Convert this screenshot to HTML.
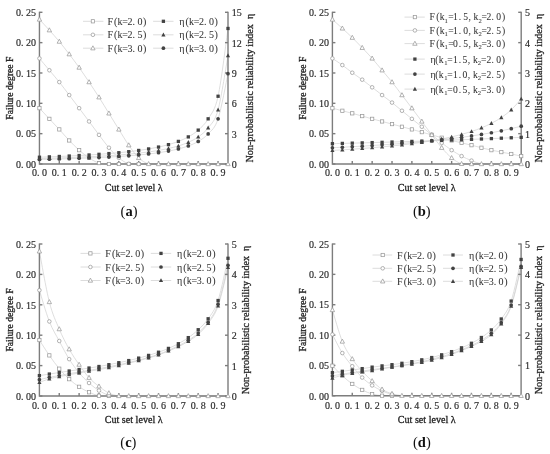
<!DOCTYPE html>
<html><head><meta charset="utf-8"><title>Failure degree and reliability index vs cut set level</title>
<style>html,body{margin:0;padding:0;background:#fff;}svg{display:block;}
text{font-family:"Liberation Serif","Noto Serif CJK SC",serif;stroke:#2e2e2e;stroke-width:0.18px;}
.lg text{stroke-width:0.05px;fill:#333;}</style></head>
<body><svg width="550" height="454" viewBox="0 0 550 454">
<rect width="550" height="454" fill="#fff"/>
<path d="M39.45 108.17C41.10 109.95 46.07 115.31 49.37 118.85C52.68 122.39 55.99 125.81 59.30 129.41C62.61 133.01 65.91 137.00 69.22 140.46C72.53 143.91 75.84 147.25 79.14 150.16C82.45 153.08 85.76 155.78 89.07 157.93C92.38 160.09 95.68 162.08 98.99 163.09C102.30 164.00 105.61 163.85 108.92 164.00C112.22 164.00 115.53 164.00 118.84 164.00C122.15 164.00 125.46 164.00 128.76 164.00C132.07 164.00 135.38 164.00 138.69 164.00C141.99 164.00 145.30 164.00 148.61 164.00C151.92 164.00 155.23 164.00 158.53 164.00C161.84 164.00 165.15 164.00 168.46 164.00C171.77 164.00 175.07 164.00 178.38 164.00C181.69 164.00 185.00 164.00 188.31 164.00C191.61 164.00 194.92 164.00 198.23 164.00C201.54 164.00 204.84 164.00 208.15 164.00C211.46 164.00 214.77 164.00 218.08 164.00C221.38 164.00 226.35 164.00 228.00 164.00" fill="none" stroke="#d3d3d3" stroke-width="0.75"/>
<path d="M39.45 58.42C41.10 60.39 46.07 66.31 49.37 70.25C52.68 74.19 55.99 77.95 59.30 82.08C62.61 86.22 65.91 90.72 69.22 95.07C72.53 99.42 75.84 103.78 79.14 108.17C82.45 112.57 85.76 117.01 89.07 121.46C92.38 125.91 95.68 130.49 98.99 134.87C102.30 139.25 105.61 143.90 108.92 147.74C112.22 151.59 115.53 155.25 118.84 157.93C122.15 160.61 125.46 162.81 128.76 163.82C132.07 164.00 135.38 163.97 138.69 164.00C141.99 164.00 145.30 164.00 148.61 164.00C151.92 164.00 155.23 164.00 158.53 164.00C161.84 164.00 165.15 164.00 168.46 164.00C171.77 164.00 175.07 164.00 178.38 164.00C181.69 164.00 185.00 164.00 188.31 164.00C191.61 164.00 194.92 164.00 198.23 164.00C201.54 164.00 204.84 164.00 208.15 164.00C211.46 164.00 214.77 164.00 218.08 164.00C221.38 164.00 226.35 164.00 228.00 164.00" fill="none" stroke="#d3d3d3" stroke-width="0.75"/>
<path d="M39.45 19.46C41.10 21.25 46.07 26.52 49.37 30.20C52.68 33.88 55.99 37.55 59.30 41.55C62.61 45.54 65.91 49.84 69.22 54.17C72.53 58.50 75.84 62.87 79.14 67.52C82.45 72.17 85.76 77.13 89.07 82.08C92.38 87.04 95.68 92.04 98.99 97.25C102.30 102.46 105.61 107.97 108.92 113.33C112.22 118.69 115.53 124.10 118.84 129.41C122.15 134.72 125.46 140.44 128.76 145.19C132.07 149.94 135.38 154.81 138.69 157.93C141.99 161.05 145.30 162.91 148.61 163.92C151.92 164.00 155.23 163.99 158.53 164.00C161.84 164.00 165.15 164.00 168.46 164.00C171.77 164.00 175.07 164.00 178.38 164.00C181.69 164.00 185.00 164.00 188.31 164.00C191.61 164.00 194.92 164.00 198.23 164.00C201.54 164.00 204.84 164.00 208.15 164.00C211.46 164.00 214.77 164.00 218.08 164.00C221.38 164.00 226.35 164.00 228.00 164.00" fill="none" stroke="#d3d3d3" stroke-width="0.75"/>
<path d="M39.45 157.22C41.10 157.16 46.07 156.99 49.37 156.87C52.68 156.74 55.99 156.61 59.30 156.47C62.61 156.33 65.91 156.19 69.22 156.03C72.53 155.87 75.84 155.71 79.14 155.53C82.45 155.35 85.76 155.17 89.07 154.97C92.38 154.76 95.68 154.55 98.99 154.32C102.30 154.09 105.61 153.84 108.92 153.58C112.22 153.31 115.53 153.02 118.84 152.71C122.15 152.39 125.46 152.06 128.76 151.68C132.07 151.30 135.38 150.90 138.69 150.45C141.99 149.99 145.30 149.51 148.61 148.94C151.92 148.38 155.23 147.78 158.53 147.06C161.84 146.34 165.15 145.58 168.46 144.64C171.77 143.70 175.07 142.70 178.38 141.41C181.69 140.12 185.00 138.78 188.31 136.90C191.61 135.01 194.92 133.13 198.23 130.12C201.54 127.11 204.84 124.47 208.15 118.83C211.46 113.18 214.77 111.30 218.08 96.24C221.38 81.18 226.35 39.77 228.00 28.48" fill="none" stroke="#d3d3d3" stroke-width="0.75"/>
<path d="M39.45 158.58C41.10 158.53 46.07 158.39 49.37 158.29C52.68 158.19 55.99 158.09 59.30 157.98C62.61 157.87 65.91 157.75 69.22 157.62C72.53 157.50 75.84 157.37 79.14 157.22C82.45 157.08 85.76 156.93 89.07 156.77C92.38 156.61 95.68 156.44 98.99 156.26C102.30 156.07 105.61 155.88 108.92 155.66C112.22 155.45 115.53 155.22 118.84 154.97C122.15 154.71 125.46 154.45 128.76 154.14C132.07 153.84 135.38 153.52 138.69 153.16C141.99 152.79 145.30 152.41 148.61 151.95C151.92 151.50 155.23 151.02 158.53 150.45C161.84 149.87 165.15 149.27 168.46 148.51C171.77 147.76 175.07 146.96 178.38 145.93C181.69 144.90 185.00 143.82 188.31 142.32C191.61 140.81 194.92 139.31 198.23 136.90C201.54 134.49 204.84 132.38 208.15 127.86C211.46 123.34 214.77 121.84 218.08 109.79C221.38 97.75 226.35 64.62 228.00 55.59" fill="none" stroke="#d3d3d3" stroke-width="0.75"/>
<path d="M39.45 159.48C41.10 159.44 46.07 159.33 49.37 159.24C52.68 159.16 55.99 159.07 59.30 158.98C62.61 158.89 65.91 158.79 69.22 158.69C72.53 158.58 75.84 158.47 79.14 158.35C82.45 158.24 85.76 158.11 89.07 157.98C92.38 157.84 95.68 157.70 98.99 157.55C102.30 157.39 105.61 157.23 108.92 157.05C112.22 156.87 115.53 156.68 118.84 156.47C122.15 156.26 125.46 156.04 128.76 155.79C132.07 155.54 135.38 155.27 138.69 154.97C141.99 154.66 145.30 154.34 148.61 153.96C151.92 153.59 155.23 153.18 158.53 152.71C161.84 152.23 165.15 151.72 168.46 151.09C171.77 150.47 175.07 149.80 178.38 148.94C181.69 148.08 185.00 147.19 188.31 145.93C191.61 144.68 194.92 143.42 198.23 141.41C201.54 139.41 204.84 137.65 208.15 133.88C211.46 130.12 214.77 128.87 218.08 118.83C221.38 108.79 226.35 81.18 228.00 73.65" fill="none" stroke="#d3d3d3" stroke-width="0.75"/>
<g stroke="#7d7d7d" stroke-width="1.4" fill="none">
<path d="M39.45 11.70V164.00H228.00V11.70"/>
<path d="M39.45 164.00h3"/>
<path d="M39.45 133.66h3"/>
<path d="M39.45 103.32h3"/>
<path d="M39.45 72.98h3"/>
<path d="M39.45 42.64h3"/>
<path d="M39.45 12.30h3"/>
<path d="M59.30 164.00v-3"/>
<path d="M79.14 164.00v-3"/>
<path d="M98.99 164.00v-3"/>
<path d="M118.84 164.00v-3"/>
<path d="M138.69 164.00v-3"/>
<path d="M158.53 164.00v-3"/>
<path d="M178.38 164.00v-3"/>
<path d="M198.23 164.00v-3"/>
<path d="M218.08 164.00v-3"/>
<path d="M228.00 164.00h-3"/>
<path d="M228.00 133.66h-3"/>
<path d="M228.00 103.32h-3"/>
<path d="M228.00 72.98h-3"/>
<path d="M228.00 42.64h-3"/>
<path d="M228.00 12.30h-3"/>
</g>
<rect x="37.80" y="106.52" width="3.30" height="3.30" fill="#fff" stroke="#9a9a9a" stroke-width="0.75"/>
<rect x="47.72" y="117.20" width="3.30" height="3.30" fill="#fff" stroke="#9a9a9a" stroke-width="0.75"/>
<rect x="57.65" y="127.76" width="3.30" height="3.30" fill="#fff" stroke="#9a9a9a" stroke-width="0.75"/>
<rect x="67.57" y="138.81" width="3.30" height="3.30" fill="#fff" stroke="#9a9a9a" stroke-width="0.75"/>
<rect x="77.49" y="148.51" width="3.30" height="3.30" fill="#fff" stroke="#9a9a9a" stroke-width="0.75"/>
<rect x="87.42" y="156.28" width="3.30" height="3.30" fill="#fff" stroke="#9a9a9a" stroke-width="0.75"/>
<rect x="97.34" y="161.44" width="3.30" height="3.30" fill="#fff" stroke="#9a9a9a" stroke-width="0.75"/>
<rect x="107.27" y="162.35" width="3.30" height="3.30" fill="#fff" stroke="#9a9a9a" stroke-width="0.75"/>
<rect x="117.19" y="162.35" width="3.30" height="3.30" fill="#fff" stroke="#9a9a9a" stroke-width="0.75"/>
<rect x="127.11" y="162.35" width="3.30" height="3.30" fill="#fff" stroke="#9a9a9a" stroke-width="0.75"/>
<rect x="137.04" y="162.35" width="3.30" height="3.30" fill="#fff" stroke="#9a9a9a" stroke-width="0.75"/>
<circle cx="39.45" cy="58.42" r="1.80" fill="#fff" stroke="#9a9a9a" stroke-width="0.75"/>
<circle cx="49.37" cy="70.25" r="1.80" fill="#fff" stroke="#9a9a9a" stroke-width="0.75"/>
<circle cx="59.30" cy="82.08" r="1.80" fill="#fff" stroke="#9a9a9a" stroke-width="0.75"/>
<circle cx="69.22" cy="95.07" r="1.80" fill="#fff" stroke="#9a9a9a" stroke-width="0.75"/>
<circle cx="79.14" cy="108.17" r="1.80" fill="#fff" stroke="#9a9a9a" stroke-width="0.75"/>
<circle cx="89.07" cy="121.46" r="1.80" fill="#fff" stroke="#9a9a9a" stroke-width="0.75"/>
<circle cx="98.99" cy="134.87" r="1.80" fill="#fff" stroke="#9a9a9a" stroke-width="0.75"/>
<circle cx="108.92" cy="147.74" r="1.80" fill="#fff" stroke="#9a9a9a" stroke-width="0.75"/>
<circle cx="118.84" cy="157.93" r="1.80" fill="#fff" stroke="#9a9a9a" stroke-width="0.75"/>
<circle cx="128.76" cy="163.82" r="1.80" fill="#fff" stroke="#9a9a9a" stroke-width="0.75"/>
<circle cx="138.69" cy="164.00" r="1.80" fill="#fff" stroke="#9a9a9a" stroke-width="0.75"/>
<path d="M39.45 17.08L41.65 21.13L37.25 21.13Z" fill="#fff" stroke="#9a9a9a" stroke-width="0.75"/>
<path d="M49.37 27.82L51.57 31.87L47.17 31.87Z" fill="#fff" stroke="#9a9a9a" stroke-width="0.75"/>
<path d="M59.30 39.17L61.50 43.22L57.10 43.22Z" fill="#fff" stroke="#9a9a9a" stroke-width="0.75"/>
<path d="M69.22 51.79L71.42 55.84L67.02 55.84Z" fill="#fff" stroke="#9a9a9a" stroke-width="0.75"/>
<path d="M79.14 65.14L81.34 69.19L76.94 69.19Z" fill="#fff" stroke="#9a9a9a" stroke-width="0.75"/>
<path d="M89.07 79.71L91.27 83.75L86.87 83.75Z" fill="#fff" stroke="#9a9a9a" stroke-width="0.75"/>
<path d="M98.99 94.88L101.19 98.92L96.79 98.92Z" fill="#fff" stroke="#9a9a9a" stroke-width="0.75"/>
<path d="M108.92 110.96L111.12 115.00L106.72 115.00Z" fill="#fff" stroke="#9a9a9a" stroke-width="0.75"/>
<path d="M118.84 127.04L121.04 131.08L116.64 131.08Z" fill="#fff" stroke="#9a9a9a" stroke-width="0.75"/>
<path d="M128.76 142.81L130.96 146.86L126.56 146.86Z" fill="#fff" stroke="#9a9a9a" stroke-width="0.75"/>
<path d="M138.69 155.56L140.89 159.60L136.49 159.60Z" fill="#fff" stroke="#9a9a9a" stroke-width="0.75"/>
<path d="M148.61 161.55L150.81 165.60L146.41 165.60Z" fill="#fff" stroke="#9a9a9a" stroke-width="0.75"/>
<path d="M158.53 161.62L160.73 165.67L156.33 165.67Z" fill="#fff" stroke="#9a9a9a" stroke-width="0.75"/>
<path d="M168.46 161.62L170.66 165.67L166.26 165.67Z" fill="#fff" stroke="#9a9a9a" stroke-width="0.75"/>
<path d="M178.38 161.62L180.58 165.67L176.18 165.67Z" fill="#fff" stroke="#9a9a9a" stroke-width="0.75"/>
<path d="M188.31 161.62L190.51 165.67L186.11 165.67Z" fill="#fff" stroke="#9a9a9a" stroke-width="0.75"/>
<path d="M198.23 161.62L200.43 165.67L196.03 165.67Z" fill="#fff" stroke="#9a9a9a" stroke-width="0.75"/>
<path d="M208.15 161.62L210.35 165.67L205.95 165.67Z" fill="#fff" stroke="#9a9a9a" stroke-width="0.75"/>
<path d="M218.08 161.62L220.28 165.67L215.88 165.67Z" fill="#fff" stroke="#9a9a9a" stroke-width="0.75"/>
<path d="M228.00 161.62L230.20 165.67L225.80 165.67Z" fill="#fff" stroke="#9a9a9a" stroke-width="0.75"/>
<rect x="37.80" y="155.57" width="3.30" height="3.30" fill="#424242" stroke="none"/>
<rect x="47.72" y="155.22" width="3.30" height="3.30" fill="#424242" stroke="none"/>
<rect x="57.65" y="154.82" width="3.30" height="3.30" fill="#424242" stroke="none"/>
<rect x="67.57" y="154.38" width="3.30" height="3.30" fill="#424242" stroke="none"/>
<rect x="77.49" y="153.88" width="3.30" height="3.30" fill="#424242" stroke="none"/>
<rect x="87.42" y="153.32" width="3.30" height="3.30" fill="#424242" stroke="none"/>
<rect x="97.34" y="152.67" width="3.30" height="3.30" fill="#424242" stroke="none"/>
<rect x="107.27" y="151.93" width="3.30" height="3.30" fill="#424242" stroke="none"/>
<rect x="117.19" y="151.06" width="3.30" height="3.30" fill="#424242" stroke="none"/>
<rect x="127.11" y="150.03" width="3.30" height="3.30" fill="#424242" stroke="none"/>
<rect x="137.04" y="148.80" width="3.30" height="3.30" fill="#424242" stroke="none"/>
<rect x="146.96" y="147.29" width="3.30" height="3.30" fill="#424242" stroke="none"/>
<rect x="156.88" y="145.41" width="3.30" height="3.30" fill="#424242" stroke="none"/>
<rect x="166.81" y="142.99" width="3.30" height="3.30" fill="#424242" stroke="none"/>
<rect x="176.73" y="139.76" width="3.30" height="3.30" fill="#424242" stroke="none"/>
<rect x="186.66" y="135.25" width="3.30" height="3.30" fill="#424242" stroke="none"/>
<rect x="196.58" y="128.47" width="3.30" height="3.30" fill="#424242" stroke="none"/>
<rect x="206.50" y="117.18" width="3.30" height="3.30" fill="#424242" stroke="none"/>
<rect x="216.43" y="94.59" width="3.30" height="3.30" fill="#424242" stroke="none"/>
<rect x="226.35" y="26.83" width="3.30" height="3.30" fill="#424242" stroke="none"/>
<path d="M39.45 156.31L41.55 160.18L37.35 160.18Z" fill="#424242" stroke="none"/>
<path d="M49.37 156.03L51.47 159.89L47.27 159.89Z" fill="#424242" stroke="none"/>
<path d="M59.30 155.71L61.40 159.57L57.20 159.57Z" fill="#424242" stroke="none"/>
<path d="M69.22 155.35L71.32 159.22L67.12 159.22Z" fill="#424242" stroke="none"/>
<path d="M79.14 154.96L81.24 158.82L77.04 158.82Z" fill="#424242" stroke="none"/>
<path d="M89.07 154.50L91.17 158.37L86.97 158.37Z" fill="#424242" stroke="none"/>
<path d="M98.99 153.99L101.09 157.85L96.89 157.85Z" fill="#424242" stroke="none"/>
<path d="M108.92 153.39L111.02 157.26L106.82 157.26Z" fill="#424242" stroke="none"/>
<path d="M118.84 152.70L120.94 156.56L116.74 156.56Z" fill="#424242" stroke="none"/>
<path d="M128.76 151.88L130.86 155.74L126.66 155.74Z" fill="#424242" stroke="none"/>
<path d="M138.69 150.89L140.79 154.75L136.59 154.75Z" fill="#424242" stroke="none"/>
<path d="M148.61 149.69L150.71 153.55L146.51 153.55Z" fill="#424242" stroke="none"/>
<path d="M158.53 148.18L160.63 152.04L156.43 152.04Z" fill="#424242" stroke="none"/>
<path d="M168.46 146.24L170.56 150.11L166.36 150.11Z" fill="#424242" stroke="none"/>
<path d="M178.38 143.66L180.48 147.53L176.28 147.53Z" fill="#424242" stroke="none"/>
<path d="M188.31 140.05L190.41 143.91L186.21 143.91Z" fill="#424242" stroke="none"/>
<path d="M198.23 134.63L200.33 138.49L196.13 138.49Z" fill="#424242" stroke="none"/>
<path d="M208.15 125.59L210.25 129.46L206.05 129.46Z" fill="#424242" stroke="none"/>
<path d="M218.08 107.52L220.18 111.39L215.98 111.39Z" fill="#424242" stroke="none"/>
<path d="M228.00 53.32L230.10 57.18L225.90 57.18Z" fill="#424242" stroke="none"/>
<circle cx="39.45" cy="159.48" r="1.85" fill="#424242" stroke="none"/>
<circle cx="49.37" cy="159.24" r="1.85" fill="#424242" stroke="none"/>
<circle cx="59.30" cy="158.98" r="1.85" fill="#424242" stroke="none"/>
<circle cx="69.22" cy="158.69" r="1.85" fill="#424242" stroke="none"/>
<circle cx="79.14" cy="158.35" r="1.85" fill="#424242" stroke="none"/>
<circle cx="89.07" cy="157.98" r="1.85" fill="#424242" stroke="none"/>
<circle cx="98.99" cy="157.55" r="1.85" fill="#424242" stroke="none"/>
<circle cx="108.92" cy="157.05" r="1.85" fill="#424242" stroke="none"/>
<circle cx="118.84" cy="156.47" r="1.85" fill="#424242" stroke="none"/>
<circle cx="128.76" cy="155.79" r="1.85" fill="#424242" stroke="none"/>
<circle cx="138.69" cy="154.97" r="1.85" fill="#424242" stroke="none"/>
<circle cx="148.61" cy="153.96" r="1.85" fill="#424242" stroke="none"/>
<circle cx="158.53" cy="152.71" r="1.85" fill="#424242" stroke="none"/>
<circle cx="168.46" cy="151.09" r="1.85" fill="#424242" stroke="none"/>
<circle cx="178.38" cy="148.94" r="1.85" fill="#424242" stroke="none"/>
<circle cx="188.31" cy="145.93" r="1.85" fill="#424242" stroke="none"/>
<circle cx="198.23" cy="141.41" r="1.85" fill="#424242" stroke="none"/>
<circle cx="208.15" cy="133.88" r="1.85" fill="#424242" stroke="none"/>
<circle cx="218.08" cy="118.83" r="1.85" fill="#424242" stroke="none"/>
<circle cx="228.00" cy="73.65" r="1.85" fill="#424242" stroke="none"/>
<text x="18.55 22.35 28.55 33.55" y="167.70" font-size="10" text-anchor="middle" fill="#2e2e2e">0.00</text>
<text x="18.55 22.35 28.55 33.55" y="137.36" font-size="10" text-anchor="middle" fill="#2e2e2e">0.05</text>
<text x="18.55 22.35 28.55 33.55" y="107.02" font-size="10" text-anchor="middle" fill="#2e2e2e">0.10</text>
<text x="18.55 22.35 28.55 33.55" y="76.68" font-size="10" text-anchor="middle" fill="#2e2e2e">0.15</text>
<text x="18.55 22.35 28.55 33.55" y="46.34" font-size="10" text-anchor="middle" fill="#2e2e2e">0.20</text>
<text x="18.55 22.35 28.55 33.55" y="16.00" font-size="10" text-anchor="middle" fill="#2e2e2e">0.25</text>
<text x="34.45 38.25 44.45" y="176.20" font-size="10" text-anchor="middle" fill="#2e2e2e">0.0</text>
<text x="54.30 58.10 64.30" y="176.20" font-size="10" text-anchor="middle" fill="#2e2e2e">0.1</text>
<text x="74.14 77.94 84.14" y="176.20" font-size="10" text-anchor="middle" fill="#2e2e2e">0.2</text>
<text x="93.99 97.79 103.99" y="176.20" font-size="10" text-anchor="middle" fill="#2e2e2e">0.3</text>
<text x="113.84 117.64 123.84" y="176.20" font-size="10" text-anchor="middle" fill="#2e2e2e">0.4</text>
<text x="133.69 137.49 143.69" y="176.20" font-size="10" text-anchor="middle" fill="#2e2e2e">0.5</text>
<text x="153.53 157.33 163.53" y="176.20" font-size="10" text-anchor="middle" fill="#2e2e2e">0.6</text>
<text x="173.38 177.18 183.38" y="176.20" font-size="10" text-anchor="middle" fill="#2e2e2e">0.7</text>
<text x="193.23 197.03 203.23" y="176.20" font-size="10" text-anchor="middle" fill="#2e2e2e">0.8</text>
<text x="213.08 216.88 223.08" y="176.20" font-size="10" text-anchor="middle" fill="#2e2e2e">0.9</text>
<text x="234.30" y="168.00" font-size="10" text-anchor="middle" fill="#2e2e2e">0</text>
<text x="234.30" y="137.66" font-size="10" text-anchor="middle" fill="#2e2e2e">3</text>
<text x="234.30" y="107.32" font-size="10" text-anchor="middle" fill="#2e2e2e">6</text>
<text x="234.30" y="76.98" font-size="10" text-anchor="middle" fill="#2e2e2e">9</text>
<text x="234.30 239.30" y="46.64" font-size="10" text-anchor="middle" fill="#2e2e2e">12</text>
<text x="234.30 239.30" y="16.30" font-size="10" text-anchor="middle" fill="#2e2e2e">15</text>
<text transform="translate(12.85 88.15) rotate(-90)" text-anchor="middle" font-size="9.65" fill="#2e2e2e" style="stroke-width:0.32px;stroke:#222">Failure degree F</text>
<text transform="translate(253.40 88.15) rotate(-90)" text-anchor="middle" font-size="10.15" fill="#2e2e2e" style="stroke-width:0.3px;stroke:#222">Non-probabilistic reliability index&#160;&#160;η</text>
<text x="133.72" y="191.30" text-anchor="middle" font-size="10.1" fill="#2e2e2e" style="stroke-width:0.32px;stroke:#222">Cut set level λ</text>
<text x="129.00" y="216.00" text-anchor="middle" font-size="14.5" fill="#111" style="stroke:none">(<tspan font-weight="bold">a</tspan>)</text>
<path d="M83.00 21.30H103.40" stroke="#d3d3d3" stroke-width="0.8"/>
<rect x="91.25" y="19.65" width="3.30" height="3.30" fill="#fff" stroke="#9a9a9a" stroke-width="0.75"/>
<g class="lg"><text x="110.17 115.72 120.08 125.03 129.98 133.75 139.88 144.58" y="24.80" font-size="10" text-anchor="middle" fill="#2e2e2e">F(k=2.0)</text></g>
<path d="M153.10 21.30H173.50" stroke="#d3d3d3" stroke-width="0.8"/>
<rect x="161.75" y="19.65" width="3.30" height="3.30" fill="#424242" stroke="none"/>
<g class="lg"><text x="181.80" y="24.80" font-size="10" text-anchor="middle" fill="#2e2e2e">η</text><text x="187.27 191.62 196.57 201.52 205.30 211.42 216.13" y="24.80" font-size="10" text-anchor="middle" fill="#2e2e2e">(k=2.0)</text></g>
<path d="M83.00 34.80H103.40" stroke="#d3d3d3" stroke-width="0.8"/>
<circle cx="92.90" cy="34.80" r="1.80" fill="#fff" stroke="#9a9a9a" stroke-width="0.75"/>
<g class="lg"><text x="110.17 115.72 120.08 125.03 129.98 133.75 139.88 144.58" y="38.30" font-size="10" text-anchor="middle" fill="#2e2e2e">F(k=2.5)</text></g>
<path d="M153.10 34.80H173.50" stroke="#d3d3d3" stroke-width="0.8"/>
<path d="M163.40 32.53L165.50 36.40L161.30 36.40Z" fill="#424242" stroke="none"/>
<g class="lg"><text x="181.80" y="38.30" font-size="10" text-anchor="middle" fill="#2e2e2e">η</text><text x="187.27 191.62 196.57 201.52 205.30 211.42 216.13" y="38.30" font-size="10" text-anchor="middle" fill="#2e2e2e">(k=2.5)</text></g>
<path d="M83.00 48.20H103.40" stroke="#d3d3d3" stroke-width="0.8"/>
<path d="M92.90 45.82L95.10 49.87L90.70 49.87Z" fill="#fff" stroke="#9a9a9a" stroke-width="0.75"/>
<g class="lg"><text x="110.17 115.72 120.08 125.03 129.98 133.75 139.88 144.58" y="51.70" font-size="10" text-anchor="middle" fill="#2e2e2e">F(k=3.0)</text></g>
<path d="M153.10 48.20H173.50" stroke="#d3d3d3" stroke-width="0.8"/>
<circle cx="163.40" cy="48.20" r="1.85" fill="#424242" stroke="none"/>
<g class="lg"><text x="181.80" y="51.70" font-size="10" text-anchor="middle" fill="#2e2e2e">η</text><text x="187.27 191.62 196.57 201.52 205.30 211.42 216.13" y="51.70" font-size="10" text-anchor="middle" fill="#2e2e2e">(k=3.0)</text></g>
<path d="M332.40 108.17C334.06 108.60 339.02 109.89 342.34 110.75C345.65 111.61 348.96 112.44 352.27 113.33C355.59 114.22 358.90 115.17 362.21 116.09C365.52 117.01 368.84 117.96 372.15 118.85C375.46 119.75 378.77 120.59 382.08 121.46C385.40 122.34 388.71 123.21 392.02 124.09C395.33 124.97 398.65 125.85 401.96 126.74C405.27 127.63 408.58 128.51 411.89 129.41C415.21 130.31 418.52 131.22 421.83 132.13C425.14 133.04 428.46 133.94 431.77 134.87C435.08 135.81 438.39 136.78 441.71 137.71C445.02 138.65 448.33 139.60 451.64 140.46C454.95 141.31 458.27 142.07 461.58 142.86C464.89 143.65 468.20 144.37 471.52 145.19C474.83 146.00 478.14 146.91 481.45 147.74C484.76 148.57 488.08 149.44 491.39 150.16C494.70 150.89 498.01 151.47 501.33 152.11C504.64 152.75 507.95 153.32 511.26 153.99C514.58 154.65 519.54 155.76 521.20 156.11" fill="none" stroke="#d3d3d3" stroke-width="0.75"/>
<path d="M332.40 58.42C334.06 59.53 339.02 62.70 342.34 65.08C345.65 67.47 348.96 70.30 352.27 72.73C355.59 75.17 358.90 77.25 362.21 79.68C365.52 82.11 368.84 84.75 372.15 87.32C375.46 89.88 378.77 92.52 382.08 95.07C385.40 97.61 388.71 99.96 392.02 102.58C395.33 105.19 398.65 108.04 401.96 110.75C405.27 113.46 408.58 116.19 411.89 118.85C415.21 121.52 418.52 124.07 421.83 126.74C425.14 129.41 428.46 132.19 431.77 134.87C435.08 137.56 438.39 140.31 441.71 142.86C445.02 145.41 448.33 147.96 451.64 150.16C454.95 152.37 458.27 154.37 461.58 156.11C464.89 157.85 468.20 159.32 471.52 160.60C474.83 161.89 478.14 163.25 481.45 163.82C484.76 164.00 488.08 163.97 491.39 164.00C494.70 164.00 498.01 164.00 501.33 164.00C504.64 164.00 507.95 164.00 511.26 164.00C514.58 164.00 519.54 164.00 521.20 164.00" fill="none" stroke="#d3d3d3" stroke-width="0.75"/>
<path d="M332.40 19.46C334.06 20.95 339.02 25.34 342.34 28.37C345.65 31.40 348.96 34.42 352.27 37.65C355.59 40.89 358.90 44.31 362.21 47.77C365.52 51.23 368.84 54.67 372.15 58.42C375.46 62.16 378.77 66.31 382.08 70.25C385.40 74.19 388.71 77.95 392.02 82.08C395.33 86.22 398.65 90.72 401.96 95.07C405.27 99.42 408.58 103.78 411.89 108.17C415.21 112.57 418.52 117.01 421.83 121.46C425.14 125.91 428.46 130.49 431.77 134.87C435.08 139.25 438.39 143.90 441.71 147.74C445.02 151.59 448.33 155.25 451.64 157.93C454.95 160.61 458.27 162.81 461.58 163.82C464.89 164.00 468.20 163.97 471.52 164.00C474.83 164.00 478.14 164.00 481.45 164.00C484.76 164.00 488.08 164.00 491.39 164.00C494.70 164.00 498.01 164.00 501.33 164.00C504.64 164.00 507.95 164.00 511.26 164.00C514.58 164.00 519.54 164.00 521.20 164.00" fill="none" stroke="#d3d3d3" stroke-width="0.75"/>
<path d="M332.40 143.67C334.06 143.63 339.02 143.50 342.34 143.41C345.65 143.33 348.96 143.24 352.27 143.15C355.59 143.06 358.90 142.97 362.21 142.88C365.52 142.79 368.84 142.70 372.15 142.60C375.46 142.51 378.77 142.41 382.08 142.32C385.40 142.22 388.71 142.12 392.02 142.02C395.33 141.92 398.65 141.82 401.96 141.72C405.27 141.62 408.58 141.52 411.89 141.41C415.21 141.31 418.52 141.20 421.83 141.10C425.14 140.99 428.46 140.88 431.77 140.77C435.08 140.66 438.39 140.55 441.71 140.43C445.02 140.32 448.33 140.20 451.64 140.08C454.95 139.97 458.27 139.85 461.58 139.73C464.89 139.61 468.20 139.48 471.52 139.36C474.83 139.24 478.14 139.11 481.45 138.98C484.76 138.85 488.08 138.72 491.39 138.59C494.70 138.46 498.01 138.32 501.33 138.19C504.64 138.05 507.95 137.91 511.26 137.77C514.58 137.63 519.54 137.41 521.20 137.34" fill="none" stroke="#d3d3d3" stroke-width="0.75"/>
<path d="M332.40 147.74C334.06 147.65 339.02 147.41 342.34 147.23C345.65 147.06 348.96 146.88 352.27 146.70C355.59 146.52 358.90 146.33 362.21 146.13C365.52 145.93 368.84 145.73 372.15 145.52C375.46 145.31 378.77 145.09 382.08 144.87C385.40 144.64 388.71 144.41 392.02 144.17C395.33 143.93 398.65 143.68 401.96 143.41C405.27 143.15 408.58 142.88 411.89 142.60C415.21 142.32 418.52 142.03 421.83 141.72C425.14 141.42 428.46 141.10 431.77 140.77C435.08 140.44 438.39 140.09 441.71 139.73C445.02 139.37 448.33 138.99 451.64 138.59C454.95 138.19 458.27 137.78 461.58 137.34C464.89 136.90 468.20 136.45 471.52 135.96C474.83 135.48 478.14 134.97 481.45 134.43C484.76 133.89 488.08 133.33 491.39 132.73C494.70 132.12 498.01 131.49 501.33 130.81C504.64 130.13 507.95 129.42 511.26 128.65C514.58 127.88 519.54 126.59 521.20 126.18" fill="none" stroke="#d3d3d3" stroke-width="0.75"/>
<path d="M332.40 150.45C334.06 150.35 339.02 150.06 342.34 149.86C345.65 149.65 348.96 149.44 352.27 149.22C355.59 148.99 358.90 148.76 362.21 148.51C365.52 148.27 368.84 148.01 372.15 147.74C375.46 147.47 378.77 147.18 382.08 146.88C385.40 146.58 388.71 146.27 392.02 145.93C395.33 145.60 398.65 145.24 401.96 144.87C405.27 144.49 408.58 144.10 411.89 143.67C415.21 143.25 418.52 142.80 421.83 142.32C425.14 141.83 428.46 141.32 431.77 140.77C435.08 140.21 438.39 139.63 441.71 138.98C445.02 138.34 448.33 137.65 451.64 136.90C454.95 136.14 458.27 135.34 461.58 134.43C464.89 133.53 468.20 132.57 471.52 131.48C474.83 130.38 478.14 129.22 481.45 127.86C484.76 126.51 488.08 125.07 491.39 123.34C494.70 121.62 498.01 119.80 501.33 117.54C504.64 115.28 507.95 112.89 511.26 109.79C514.58 106.69 519.54 100.76 521.20 98.95" fill="none" stroke="#d3d3d3" stroke-width="0.75"/>
<g stroke="#7d7d7d" stroke-width="1.4" fill="none">
<path d="M332.40 11.70V164.00H521.20V11.70"/>
<path d="M332.40 164.00h3"/>
<path d="M332.40 133.66h3"/>
<path d="M332.40 103.32h3"/>
<path d="M332.40 72.98h3"/>
<path d="M332.40 42.64h3"/>
<path d="M332.40 12.30h3"/>
<path d="M352.27 164.00v-3"/>
<path d="M372.15 164.00v-3"/>
<path d="M392.02 164.00v-3"/>
<path d="M411.89 164.00v-3"/>
<path d="M431.77 164.00v-3"/>
<path d="M451.64 164.00v-3"/>
<path d="M471.52 164.00v-3"/>
<path d="M491.39 164.00v-3"/>
<path d="M511.26 164.00v-3"/>
<path d="M521.20 164.00h-3"/>
<path d="M521.20 133.66h-3"/>
<path d="M521.20 103.32h-3"/>
<path d="M521.20 72.98h-3"/>
<path d="M521.20 42.64h-3"/>
<path d="M521.20 12.30h-3"/>
</g>
<rect x="330.75" y="106.52" width="3.30" height="3.30" fill="#fff" stroke="#9a9a9a" stroke-width="0.75"/>
<rect x="340.69" y="109.10" width="3.30" height="3.30" fill="#fff" stroke="#9a9a9a" stroke-width="0.75"/>
<rect x="350.62" y="111.68" width="3.30" height="3.30" fill="#fff" stroke="#9a9a9a" stroke-width="0.75"/>
<rect x="360.56" y="114.44" width="3.30" height="3.30" fill="#fff" stroke="#9a9a9a" stroke-width="0.75"/>
<rect x="370.50" y="117.20" width="3.30" height="3.30" fill="#fff" stroke="#9a9a9a" stroke-width="0.75"/>
<rect x="380.43" y="119.81" width="3.30" height="3.30" fill="#fff" stroke="#9a9a9a" stroke-width="0.75"/>
<rect x="390.37" y="122.44" width="3.30" height="3.30" fill="#fff" stroke="#9a9a9a" stroke-width="0.75"/>
<rect x="400.31" y="125.09" width="3.30" height="3.30" fill="#fff" stroke="#9a9a9a" stroke-width="0.75"/>
<rect x="410.24" y="127.76" width="3.30" height="3.30" fill="#fff" stroke="#9a9a9a" stroke-width="0.75"/>
<rect x="420.18" y="130.48" width="3.30" height="3.30" fill="#fff" stroke="#9a9a9a" stroke-width="0.75"/>
<rect x="430.12" y="133.22" width="3.30" height="3.30" fill="#fff" stroke="#9a9a9a" stroke-width="0.75"/>
<rect x="440.06" y="136.06" width="3.30" height="3.30" fill="#fff" stroke="#9a9a9a" stroke-width="0.75"/>
<rect x="449.99" y="138.81" width="3.30" height="3.30" fill="#fff" stroke="#9a9a9a" stroke-width="0.75"/>
<rect x="459.93" y="141.21" width="3.30" height="3.30" fill="#fff" stroke="#9a9a9a" stroke-width="0.75"/>
<rect x="469.87" y="143.54" width="3.30" height="3.30" fill="#fff" stroke="#9a9a9a" stroke-width="0.75"/>
<rect x="479.80" y="146.09" width="3.30" height="3.30" fill="#fff" stroke="#9a9a9a" stroke-width="0.75"/>
<rect x="489.74" y="148.51" width="3.30" height="3.30" fill="#fff" stroke="#9a9a9a" stroke-width="0.75"/>
<rect x="499.68" y="150.46" width="3.30" height="3.30" fill="#fff" stroke="#9a9a9a" stroke-width="0.75"/>
<rect x="509.61" y="152.34" width="3.30" height="3.30" fill="#fff" stroke="#9a9a9a" stroke-width="0.75"/>
<rect x="519.55" y="154.46" width="3.30" height="3.30" fill="#fff" stroke="#9a9a9a" stroke-width="0.75"/>
<circle cx="332.40" cy="58.42" r="1.80" fill="#fff" stroke="#9a9a9a" stroke-width="0.75"/>
<circle cx="342.34" cy="65.08" r="1.80" fill="#fff" stroke="#9a9a9a" stroke-width="0.75"/>
<circle cx="352.27" cy="72.73" r="1.80" fill="#fff" stroke="#9a9a9a" stroke-width="0.75"/>
<circle cx="362.21" cy="79.68" r="1.80" fill="#fff" stroke="#9a9a9a" stroke-width="0.75"/>
<circle cx="372.15" cy="87.32" r="1.80" fill="#fff" stroke="#9a9a9a" stroke-width="0.75"/>
<circle cx="382.08" cy="95.07" r="1.80" fill="#fff" stroke="#9a9a9a" stroke-width="0.75"/>
<circle cx="392.02" cy="102.58" r="1.80" fill="#fff" stroke="#9a9a9a" stroke-width="0.75"/>
<circle cx="401.96" cy="110.75" r="1.80" fill="#fff" stroke="#9a9a9a" stroke-width="0.75"/>
<circle cx="411.89" cy="118.85" r="1.80" fill="#fff" stroke="#9a9a9a" stroke-width="0.75"/>
<circle cx="421.83" cy="126.74" r="1.80" fill="#fff" stroke="#9a9a9a" stroke-width="0.75"/>
<circle cx="431.77" cy="134.87" r="1.80" fill="#fff" stroke="#9a9a9a" stroke-width="0.75"/>
<circle cx="441.71" cy="142.86" r="1.80" fill="#fff" stroke="#9a9a9a" stroke-width="0.75"/>
<circle cx="451.64" cy="150.16" r="1.80" fill="#fff" stroke="#9a9a9a" stroke-width="0.75"/>
<circle cx="461.58" cy="156.11" r="1.80" fill="#fff" stroke="#9a9a9a" stroke-width="0.75"/>
<circle cx="471.52" cy="160.60" r="1.80" fill="#fff" stroke="#9a9a9a" stroke-width="0.75"/>
<path d="M332.40 17.08L334.60 21.13L330.20 21.13Z" fill="#fff" stroke="#9a9a9a" stroke-width="0.75"/>
<path d="M342.34 25.99L344.54 30.04L340.14 30.04Z" fill="#fff" stroke="#9a9a9a" stroke-width="0.75"/>
<path d="M352.27 35.28L354.47 39.32L350.07 39.32Z" fill="#fff" stroke="#9a9a9a" stroke-width="0.75"/>
<path d="M362.21 45.39L364.41 49.44L360.01 49.44Z" fill="#fff" stroke="#9a9a9a" stroke-width="0.75"/>
<path d="M372.15 56.04L374.35 60.09L369.95 60.09Z" fill="#fff" stroke="#9a9a9a" stroke-width="0.75"/>
<path d="M382.08 67.87L384.28 71.92L379.88 71.92Z" fill="#fff" stroke="#9a9a9a" stroke-width="0.75"/>
<path d="M392.02 79.71L394.22 83.75L389.82 83.75Z" fill="#fff" stroke="#9a9a9a" stroke-width="0.75"/>
<path d="M401.96 92.69L404.16 96.74L399.76 96.74Z" fill="#fff" stroke="#9a9a9a" stroke-width="0.75"/>
<path d="M411.89 105.80L414.09 109.85L409.69 109.85Z" fill="#fff" stroke="#9a9a9a" stroke-width="0.75"/>
<path d="M421.83 119.09L424.03 123.14L419.63 123.14Z" fill="#fff" stroke="#9a9a9a" stroke-width="0.75"/>
<path d="M431.77 132.50L433.97 136.55L429.57 136.55Z" fill="#fff" stroke="#9a9a9a" stroke-width="0.75"/>
<path d="M441.71 145.37L443.91 149.42L439.51 149.42Z" fill="#fff" stroke="#9a9a9a" stroke-width="0.75"/>
<path d="M451.64 155.56L453.84 159.60L449.44 159.60Z" fill="#fff" stroke="#9a9a9a" stroke-width="0.75"/>
<path d="M461.58 161.44L463.78 165.49L459.38 165.49Z" fill="#fff" stroke="#9a9a9a" stroke-width="0.75"/>
<path d="M471.52 161.62L473.72 165.67L469.32 165.67Z" fill="#fff" stroke="#9a9a9a" stroke-width="0.75"/>
<path d="M481.45 161.62L483.65 165.67L479.25 165.67Z" fill="#fff" stroke="#9a9a9a" stroke-width="0.75"/>
<path d="M491.39 161.62L493.59 165.67L489.19 165.67Z" fill="#fff" stroke="#9a9a9a" stroke-width="0.75"/>
<path d="M501.33 161.62L503.53 165.67L499.13 165.67Z" fill="#fff" stroke="#9a9a9a" stroke-width="0.75"/>
<path d="M511.26 161.62L513.46 165.67L509.06 165.67Z" fill="#fff" stroke="#9a9a9a" stroke-width="0.75"/>
<path d="M521.20 161.62L523.40 165.67L519.00 165.67Z" fill="#fff" stroke="#9a9a9a" stroke-width="0.75"/>
<rect x="330.75" y="142.02" width="3.30" height="3.30" fill="#424242" stroke="none"/>
<rect x="340.69" y="141.76" width="3.30" height="3.30" fill="#424242" stroke="none"/>
<rect x="350.62" y="141.50" width="3.30" height="3.30" fill="#424242" stroke="none"/>
<rect x="360.56" y="141.23" width="3.30" height="3.30" fill="#424242" stroke="none"/>
<rect x="370.50" y="140.95" width="3.30" height="3.30" fill="#424242" stroke="none"/>
<rect x="380.43" y="140.67" width="3.30" height="3.30" fill="#424242" stroke="none"/>
<rect x="390.37" y="140.37" width="3.30" height="3.30" fill="#424242" stroke="none"/>
<rect x="400.31" y="140.07" width="3.30" height="3.30" fill="#424242" stroke="none"/>
<rect x="410.24" y="139.76" width="3.30" height="3.30" fill="#424242" stroke="none"/>
<rect x="420.18" y="139.45" width="3.30" height="3.30" fill="#424242" stroke="none"/>
<rect x="430.12" y="139.12" width="3.30" height="3.30" fill="#424242" stroke="none"/>
<rect x="440.06" y="138.78" width="3.30" height="3.30" fill="#424242" stroke="none"/>
<rect x="449.99" y="138.43" width="3.30" height="3.30" fill="#424242" stroke="none"/>
<rect x="459.93" y="138.08" width="3.30" height="3.30" fill="#424242" stroke="none"/>
<rect x="469.87" y="137.71" width="3.30" height="3.30" fill="#424242" stroke="none"/>
<rect x="479.80" y="137.33" width="3.30" height="3.30" fill="#424242" stroke="none"/>
<rect x="489.74" y="136.94" width="3.30" height="3.30" fill="#424242" stroke="none"/>
<rect x="499.68" y="136.54" width="3.30" height="3.30" fill="#424242" stroke="none"/>
<rect x="509.61" y="136.12" width="3.30" height="3.30" fill="#424242" stroke="none"/>
<rect x="519.55" y="135.69" width="3.30" height="3.30" fill="#424242" stroke="none"/>
<circle cx="332.40" cy="147.74" r="1.85" fill="#424242" stroke="none"/>
<circle cx="342.34" cy="147.23" r="1.85" fill="#424242" stroke="none"/>
<circle cx="352.27" cy="146.70" r="1.85" fill="#424242" stroke="none"/>
<circle cx="362.21" cy="146.13" r="1.85" fill="#424242" stroke="none"/>
<circle cx="372.15" cy="145.52" r="1.85" fill="#424242" stroke="none"/>
<circle cx="382.08" cy="144.87" r="1.85" fill="#424242" stroke="none"/>
<circle cx="392.02" cy="144.17" r="1.85" fill="#424242" stroke="none"/>
<circle cx="401.96" cy="143.41" r="1.85" fill="#424242" stroke="none"/>
<circle cx="411.89" cy="142.60" r="1.85" fill="#424242" stroke="none"/>
<circle cx="421.83" cy="141.72" r="1.85" fill="#424242" stroke="none"/>
<circle cx="431.77" cy="140.77" r="1.85" fill="#424242" stroke="none"/>
<circle cx="441.71" cy="139.73" r="1.85" fill="#424242" stroke="none"/>
<circle cx="451.64" cy="138.59" r="1.85" fill="#424242" stroke="none"/>
<circle cx="461.58" cy="137.34" r="1.85" fill="#424242" stroke="none"/>
<circle cx="471.52" cy="135.96" r="1.85" fill="#424242" stroke="none"/>
<circle cx="481.45" cy="134.43" r="1.85" fill="#424242" stroke="none"/>
<circle cx="491.39" cy="132.73" r="1.85" fill="#424242" stroke="none"/>
<circle cx="501.33" cy="130.81" r="1.85" fill="#424242" stroke="none"/>
<circle cx="511.26" cy="128.65" r="1.85" fill="#424242" stroke="none"/>
<circle cx="521.20" cy="126.18" r="1.85" fill="#424242" stroke="none"/>
<path d="M332.40 148.18L334.50 152.04L330.30 152.04Z" fill="#424242" stroke="none"/>
<path d="M342.34 147.59L344.44 151.45L340.24 151.45Z" fill="#424242" stroke="none"/>
<path d="M352.27 146.95L354.37 150.81L350.17 150.81Z" fill="#424242" stroke="none"/>
<path d="M362.21 146.24L364.31 150.11L360.11 150.11Z" fill="#424242" stroke="none"/>
<path d="M372.15 145.47L374.25 149.33L370.05 149.33Z" fill="#424242" stroke="none"/>
<path d="M382.08 144.61L384.18 148.48L379.98 148.48Z" fill="#424242" stroke="none"/>
<path d="M392.02 143.66L394.12 147.53L389.92 147.53Z" fill="#424242" stroke="none"/>
<path d="M401.96 142.60L404.06 146.46L399.86 146.46Z" fill="#424242" stroke="none"/>
<path d="M411.89 141.40L413.99 145.27L409.79 145.27Z" fill="#424242" stroke="none"/>
<path d="M421.83 140.05L423.93 143.91L419.73 143.91Z" fill="#424242" stroke="none"/>
<path d="M431.77 138.50L433.87 142.36L429.67 142.36Z" fill="#424242" stroke="none"/>
<path d="M441.71 136.71L443.81 140.58L439.61 140.58Z" fill="#424242" stroke="none"/>
<path d="M451.64 134.63L453.74 138.49L449.54 138.49Z" fill="#424242" stroke="none"/>
<path d="M461.58 132.16L463.68 136.03L459.48 136.03Z" fill="#424242" stroke="none"/>
<path d="M471.52 129.21L473.62 133.07L469.42 133.07Z" fill="#424242" stroke="none"/>
<path d="M481.45 125.59L483.55 129.46L479.35 129.46Z" fill="#424242" stroke="none"/>
<path d="M491.39 121.08L493.49 124.94L489.29 124.94Z" fill="#424242" stroke="none"/>
<path d="M501.33 115.27L503.43 119.13L499.23 119.13Z" fill="#424242" stroke="none"/>
<path d="M511.26 107.52L513.36 111.39L509.16 111.39Z" fill="#424242" stroke="none"/>
<path d="M521.20 96.68L523.30 100.55L519.10 100.55Z" fill="#424242" stroke="none"/>
<text x="311.50 315.30 321.50 326.50" y="167.70" font-size="10" text-anchor="middle" fill="#2e2e2e">0.00</text>
<text x="311.50 315.30 321.50 326.50" y="137.36" font-size="10" text-anchor="middle" fill="#2e2e2e">0.05</text>
<text x="311.50 315.30 321.50 326.50" y="107.02" font-size="10" text-anchor="middle" fill="#2e2e2e">0.10</text>
<text x="311.50 315.30 321.50 326.50" y="76.68" font-size="10" text-anchor="middle" fill="#2e2e2e">0.15</text>
<text x="311.50 315.30 321.50 326.50" y="46.34" font-size="10" text-anchor="middle" fill="#2e2e2e">0.20</text>
<text x="311.50 315.30 321.50 326.50" y="16.00" font-size="10" text-anchor="middle" fill="#2e2e2e">0.25</text>
<text x="327.40 331.20 337.40" y="176.20" font-size="10" text-anchor="middle" fill="#2e2e2e">0.0</text>
<text x="347.27 351.07 357.27" y="176.20" font-size="10" text-anchor="middle" fill="#2e2e2e">0.1</text>
<text x="367.15 370.95 377.15" y="176.20" font-size="10" text-anchor="middle" fill="#2e2e2e">0.2</text>
<text x="387.02 390.82 397.02" y="176.20" font-size="10" text-anchor="middle" fill="#2e2e2e">0.3</text>
<text x="406.89 410.69 416.89" y="176.20" font-size="10" text-anchor="middle" fill="#2e2e2e">0.4</text>
<text x="426.77 430.57 436.77" y="176.20" font-size="10" text-anchor="middle" fill="#2e2e2e">0.5</text>
<text x="446.64 450.44 456.64" y="176.20" font-size="10" text-anchor="middle" fill="#2e2e2e">0.6</text>
<text x="466.52 470.32 476.52" y="176.20" font-size="10" text-anchor="middle" fill="#2e2e2e">0.7</text>
<text x="486.39 490.19 496.39" y="176.20" font-size="10" text-anchor="middle" fill="#2e2e2e">0.8</text>
<text x="506.26 510.06 516.26" y="176.20" font-size="10" text-anchor="middle" fill="#2e2e2e">0.9</text>
<text x="527.50" y="168.00" font-size="10" text-anchor="middle" fill="#2e2e2e">0</text>
<text x="527.50" y="137.66" font-size="10" text-anchor="middle" fill="#2e2e2e">1</text>
<text x="527.50" y="107.32" font-size="10" text-anchor="middle" fill="#2e2e2e">2</text>
<text x="527.50" y="76.98" font-size="10" text-anchor="middle" fill="#2e2e2e">3</text>
<text x="527.50" y="46.64" font-size="10" text-anchor="middle" fill="#2e2e2e">4</text>
<text x="527.50" y="16.30" font-size="10" text-anchor="middle" fill="#2e2e2e">5</text>
<text transform="translate(305.80 88.15) rotate(-90)" text-anchor="middle" font-size="9.65" fill="#2e2e2e" style="stroke-width:0.32px;stroke:#222">Failure degree F</text>
<text transform="translate(541.80 88.15) rotate(-90)" text-anchor="middle" font-size="10.15" fill="#2e2e2e" style="stroke-width:0.3px;stroke:#222">Non-probabilistic reliability index&#160;&#160;η</text>
<text x="426.80" y="191.00" text-anchor="middle" font-size="10.1" fill="#2e2e2e" style="stroke-width:0.32px;stroke:#222">Cut set level λ</text>
<text x="421.80" y="215.50" text-anchor="middle" font-size="14.5" fill="#111" style="stroke:none">(<tspan font-weight="bold">b</tspan>)</text>
<path d="M404.50 17.10H424.80" stroke="#d3d3d3" stroke-width="0.8"/>
<rect x="413.25" y="15.45" width="3.30" height="3.30" fill="#fff" stroke="#9a9a9a" stroke-width="0.75"/>
<g class="lg"><text x="432.20" y="20.40" font-size="9.6" text-anchor="middle" fill="#2e2e2e">F</text><text x="437.90" y="20.40" font-size="9.6" text-anchor="middle" fill="#2e2e2e">(</text><text x="442.10" y="20.40" font-size="9.6" text-anchor="middle" fill="#2e2e2e">k</text><text x="446.20" y="22.70" font-size="6.6" text-anchor="middle" fill="#2e2e2e">1</text><text x="450.90" y="20.40" font-size="9.6" text-anchor="middle" fill="#2e2e2e">=</text><text x="455.50" y="20.40" font-size="9.6" text-anchor="middle" fill="#2e2e2e">1</text><text x="460.00" y="20.40" font-size="9.6" text-anchor="middle" fill="#2e2e2e">.</text><text x="465.60" y="20.40" font-size="9.6" text-anchor="middle" fill="#2e2e2e">5</text><text x="469.60" y="20.40" font-size="9.6" text-anchor="middle" fill="#2e2e2e">,</text><text x="476.00" y="20.40" font-size="9.6" text-anchor="middle" fill="#2e2e2e">k</text><text x="480.10" y="22.70" font-size="6.6" text-anchor="middle" fill="#2e2e2e">2</text><text x="484.10" y="20.40" font-size="9.6" text-anchor="middle" fill="#2e2e2e">=</text><text x="489.00" y="20.40" font-size="9.6" text-anchor="middle" fill="#2e2e2e">2</text><text x="492.60" y="20.40" font-size="9.6" text-anchor="middle" fill="#2e2e2e">.</text><text x="498.60" y="20.40" font-size="9.6" text-anchor="middle" fill="#2e2e2e">0</text><text x="503.50" y="20.40" font-size="9.6" text-anchor="middle" fill="#2e2e2e">)</text></g>
<path d="M404.50 30.40H424.80" stroke="#d3d3d3" stroke-width="0.8"/>
<circle cx="414.90" cy="30.40" r="1.80" fill="#fff" stroke="#9a9a9a" stroke-width="0.75"/>
<g class="lg"><text x="432.20" y="33.70" font-size="9.6" text-anchor="middle" fill="#2e2e2e">F</text><text x="437.90" y="33.70" font-size="9.6" text-anchor="middle" fill="#2e2e2e">(</text><text x="442.10" y="33.70" font-size="9.6" text-anchor="middle" fill="#2e2e2e">k</text><text x="446.20" y="36.00" font-size="6.6" text-anchor="middle" fill="#2e2e2e">1</text><text x="450.90" y="33.70" font-size="9.6" text-anchor="middle" fill="#2e2e2e">=</text><text x="455.50" y="33.70" font-size="9.6" text-anchor="middle" fill="#2e2e2e">1</text><text x="460.00" y="33.70" font-size="9.6" text-anchor="middle" fill="#2e2e2e">.</text><text x="465.60" y="33.70" font-size="9.6" text-anchor="middle" fill="#2e2e2e">0</text><text x="469.60" y="33.70" font-size="9.6" text-anchor="middle" fill="#2e2e2e">,</text><text x="476.00" y="33.70" font-size="9.6" text-anchor="middle" fill="#2e2e2e">k</text><text x="480.10" y="36.00" font-size="6.6" text-anchor="middle" fill="#2e2e2e">2</text><text x="484.10" y="33.70" font-size="9.6" text-anchor="middle" fill="#2e2e2e">=</text><text x="489.00" y="33.70" font-size="9.6" text-anchor="middle" fill="#2e2e2e">2</text><text x="492.60" y="33.70" font-size="9.6" text-anchor="middle" fill="#2e2e2e">.</text><text x="498.60" y="33.70" font-size="9.6" text-anchor="middle" fill="#2e2e2e">5</text><text x="503.50" y="33.70" font-size="9.6" text-anchor="middle" fill="#2e2e2e">)</text></g>
<path d="M404.50 43.60H424.80" stroke="#d3d3d3" stroke-width="0.8"/>
<path d="M414.90 41.22L417.10 45.27L412.70 45.27Z" fill="#fff" stroke="#9a9a9a" stroke-width="0.75"/>
<g class="lg"><text x="432.20" y="46.90" font-size="9.6" text-anchor="middle" fill="#2e2e2e">F</text><text x="437.90" y="46.90" font-size="9.6" text-anchor="middle" fill="#2e2e2e">(</text><text x="442.10" y="46.90" font-size="9.6" text-anchor="middle" fill="#2e2e2e">k</text><text x="446.20" y="49.20" font-size="6.6" text-anchor="middle" fill="#2e2e2e">1</text><text x="450.90" y="46.90" font-size="9.6" text-anchor="middle" fill="#2e2e2e">=</text><text x="455.50" y="46.90" font-size="9.6" text-anchor="middle" fill="#2e2e2e">0</text><text x="460.00" y="46.90" font-size="9.6" text-anchor="middle" fill="#2e2e2e">.</text><text x="465.60" y="46.90" font-size="9.6" text-anchor="middle" fill="#2e2e2e">5</text><text x="469.60" y="46.90" font-size="9.6" text-anchor="middle" fill="#2e2e2e">,</text><text x="476.00" y="46.90" font-size="9.6" text-anchor="middle" fill="#2e2e2e">k</text><text x="480.10" y="49.20" font-size="6.6" text-anchor="middle" fill="#2e2e2e">2</text><text x="484.10" y="46.90" font-size="9.6" text-anchor="middle" fill="#2e2e2e">=</text><text x="489.00" y="46.90" font-size="9.6" text-anchor="middle" fill="#2e2e2e">3</text><text x="492.60" y="46.90" font-size="9.6" text-anchor="middle" fill="#2e2e2e">.</text><text x="498.60" y="46.90" font-size="9.6" text-anchor="middle" fill="#2e2e2e">0</text><text x="503.50" y="46.90" font-size="9.6" text-anchor="middle" fill="#2e2e2e">)</text></g>
<path d="M404.50 59.10H424.80" stroke="#d3d3d3" stroke-width="0.8"/>
<rect x="413.25" y="57.45" width="3.30" height="3.30" fill="#424242" stroke="none"/>
<g class="lg"><text x="433.00" y="62.60" font-size="9.6" text-anchor="middle" fill="#2e2e2e">η</text><text x="436.90" y="62.60" font-size="9.6" text-anchor="middle" fill="#2e2e2e">(</text><text x="441.20" y="62.60" font-size="9.6" text-anchor="middle" fill="#2e2e2e">k</text><text x="445.80" y="64.90" font-size="6.6" text-anchor="middle" fill="#2e2e2e">1</text><text x="450.00" y="62.60" font-size="9.6" text-anchor="middle" fill="#2e2e2e">=</text><text x="455.40" y="62.60" font-size="9.6" text-anchor="middle" fill="#2e2e2e">1</text><text x="460.00" y="62.60" font-size="9.6" text-anchor="middle" fill="#2e2e2e">.</text><text x="464.90" y="62.60" font-size="9.6" text-anchor="middle" fill="#2e2e2e">5</text><text x="469.00" y="62.60" font-size="9.6" text-anchor="middle" fill="#2e2e2e">,</text><text x="475.30" y="62.60" font-size="9.6" text-anchor="middle" fill="#2e2e2e">k</text><text x="479.40" y="64.90" font-size="6.6" text-anchor="middle" fill="#2e2e2e">2</text><text x="483.80" y="62.60" font-size="9.6" text-anchor="middle" fill="#2e2e2e">=</text><text x="488.90" y="62.60" font-size="9.6" text-anchor="middle" fill="#2e2e2e">2</text><text x="492.80" y="62.60" font-size="9.6" text-anchor="middle" fill="#2e2e2e">.</text><text x="498.60" y="62.60" font-size="9.6" text-anchor="middle" fill="#2e2e2e">0</text><text x="503.30" y="62.60" font-size="9.6" text-anchor="middle" fill="#2e2e2e">)</text></g>
<path d="M404.50 74.10H424.80" stroke="#d3d3d3" stroke-width="0.8"/>
<circle cx="414.90" cy="74.10" r="1.85" fill="#424242" stroke="none"/>
<g class="lg"><text x="433.00" y="77.60" font-size="9.6" text-anchor="middle" fill="#2e2e2e">η</text><text x="436.90" y="77.60" font-size="9.6" text-anchor="middle" fill="#2e2e2e">(</text><text x="441.20" y="77.60" font-size="9.6" text-anchor="middle" fill="#2e2e2e">k</text><text x="445.80" y="79.90" font-size="6.6" text-anchor="middle" fill="#2e2e2e">1</text><text x="450.00" y="77.60" font-size="9.6" text-anchor="middle" fill="#2e2e2e">=</text><text x="455.40" y="77.60" font-size="9.6" text-anchor="middle" fill="#2e2e2e">1</text><text x="460.00" y="77.60" font-size="9.6" text-anchor="middle" fill="#2e2e2e">.</text><text x="464.90" y="77.60" font-size="9.6" text-anchor="middle" fill="#2e2e2e">0</text><text x="469.00" y="77.60" font-size="9.6" text-anchor="middle" fill="#2e2e2e">,</text><text x="475.30" y="77.60" font-size="9.6" text-anchor="middle" fill="#2e2e2e">k</text><text x="479.40" y="79.90" font-size="6.6" text-anchor="middle" fill="#2e2e2e">2</text><text x="483.80" y="77.60" font-size="9.6" text-anchor="middle" fill="#2e2e2e">=</text><text x="488.90" y="77.60" font-size="9.6" text-anchor="middle" fill="#2e2e2e">2</text><text x="492.80" y="77.60" font-size="9.6" text-anchor="middle" fill="#2e2e2e">.</text><text x="498.60" y="77.60" font-size="9.6" text-anchor="middle" fill="#2e2e2e">5</text><text x="503.30" y="77.60" font-size="9.6" text-anchor="middle" fill="#2e2e2e">)</text></g>
<path d="M404.50 89.10H424.80" stroke="#d3d3d3" stroke-width="0.8"/>
<path d="M414.90 86.83L417.00 90.70L412.80 90.70Z" fill="#424242" stroke="none"/>
<g class="lg"><text x="433.00" y="92.60" font-size="9.6" text-anchor="middle" fill="#2e2e2e">η</text><text x="436.90" y="92.60" font-size="9.6" text-anchor="middle" fill="#2e2e2e">(</text><text x="441.20" y="92.60" font-size="9.6" text-anchor="middle" fill="#2e2e2e">k</text><text x="445.80" y="94.90" font-size="6.6" text-anchor="middle" fill="#2e2e2e">1</text><text x="450.00" y="92.60" font-size="9.6" text-anchor="middle" fill="#2e2e2e">=</text><text x="455.40" y="92.60" font-size="9.6" text-anchor="middle" fill="#2e2e2e">0</text><text x="460.00" y="92.60" font-size="9.6" text-anchor="middle" fill="#2e2e2e">.</text><text x="464.90" y="92.60" font-size="9.6" text-anchor="middle" fill="#2e2e2e">5</text><text x="469.00" y="92.60" font-size="9.6" text-anchor="middle" fill="#2e2e2e">,</text><text x="475.30" y="92.60" font-size="9.6" text-anchor="middle" fill="#2e2e2e">k</text><text x="479.40" y="94.90" font-size="6.6" text-anchor="middle" fill="#2e2e2e">2</text><text x="483.80" y="92.60" font-size="9.6" text-anchor="middle" fill="#2e2e2e">=</text><text x="488.90" y="92.60" font-size="9.6" text-anchor="middle" fill="#2e2e2e">3</text><text x="492.80" y="92.60" font-size="9.6" text-anchor="middle" fill="#2e2e2e">.</text><text x="498.60" y="92.60" font-size="9.6" text-anchor="middle" fill="#2e2e2e">0</text><text x="503.30" y="92.60" font-size="9.6" text-anchor="middle" fill="#2e2e2e">)</text></g>
<path d="M39.40 340.06C41.05 342.62 46.02 350.62 49.33 355.39C52.64 360.16 55.94 364.72 59.25 368.69C62.56 372.65 65.87 376.15 69.18 379.17C72.49 382.19 75.80 384.62 79.11 386.80C82.41 388.98 85.72 390.78 89.03 392.26C92.34 393.75 95.65 395.10 98.96 395.72C102.27 396.00 105.58 395.95 108.88 396.00C112.19 396.00 115.50 396.00 118.81 396.00C122.12 396.00 125.43 396.00 128.74 396.00C132.05 396.00 135.35 396.00 138.66 396.00C141.97 396.00 145.28 396.00 148.59 396.00C151.90 396.00 155.21 396.00 158.52 396.00C161.82 396.00 165.13 396.00 168.44 396.00C171.75 396.00 175.06 396.00 178.37 396.00C181.68 396.00 184.99 396.00 188.29 396.00C191.60 396.00 194.91 396.00 198.22 396.00C201.53 396.00 204.84 396.00 208.15 396.00C211.46 396.00 214.76 396.00 218.07 396.00C221.38 396.00 226.35 396.00 228.00 396.00" fill="none" stroke="#d3d3d3" stroke-width="0.75"/>
<path d="M39.40 290.21C41.05 295.41 46.02 312.98 49.33 321.45C52.64 329.91 55.94 334.72 59.25 341.00C62.56 347.28 65.87 353.83 69.18 359.13C72.49 364.43 75.80 368.82 79.11 372.79C82.41 376.77 85.72 380.03 89.03 383.00C92.34 385.96 95.65 388.54 98.96 390.58C102.27 392.62 105.58 394.34 108.88 395.24C112.19 396.00 115.50 395.87 118.81 396.00C122.12 396.00 125.43 396.00 128.74 396.00C132.05 396.00 135.35 396.00 138.66 396.00C141.97 396.00 145.28 396.00 148.59 396.00C151.90 396.00 155.21 396.00 158.52 396.00C161.82 396.00 165.13 396.00 168.44 396.00C171.75 396.00 175.06 396.00 178.37 396.00C181.68 396.00 184.99 396.00 188.29 396.00C191.60 396.00 194.91 396.00 198.22 396.00C201.53 396.00 204.84 396.00 208.15 396.00C211.46 396.00 214.76 396.00 218.07 396.00C221.38 396.00 226.35 396.00 228.00 396.00" fill="none" stroke="#d3d3d3" stroke-width="0.75"/>
<path d="M39.40 251.33C41.05 259.77 46.02 289.01 49.33 301.97C52.64 314.93 55.94 321.22 59.25 329.09C62.56 336.96 65.87 343.28 69.18 349.20C72.49 355.12 75.80 359.84 79.11 364.60C82.41 369.35 85.72 374.11 89.03 377.73C92.34 381.35 95.65 383.78 98.96 386.34C102.27 388.90 105.58 391.48 108.88 393.08C112.19 394.68 115.50 395.47 118.81 395.95C122.12 396.00 125.43 395.99 128.74 396.00C132.05 396.00 135.35 396.00 138.66 396.00C141.97 396.00 145.28 396.00 148.59 396.00C151.90 396.00 155.21 396.00 158.52 396.00C161.82 396.00 165.13 396.00 168.44 396.00C171.75 396.00 175.06 396.00 178.37 396.00C181.68 396.00 184.99 396.00 188.29 396.00C191.60 396.00 194.91 396.00 198.22 396.00C201.53 396.00 204.84 396.00 208.15 396.00C211.46 396.00 214.76 396.00 218.07 396.00C221.38 396.00 226.35 396.00 228.00 396.00" fill="none" stroke="#d3d3d3" stroke-width="0.75"/>
<path d="M39.40 375.63C41.05 375.37 46.02 374.57 49.33 374.05C52.64 373.53 55.94 373.01 59.25 372.50C62.56 371.99 65.87 371.50 69.18 371.01C72.49 370.52 75.80 370.05 79.11 369.55C82.41 369.06 85.72 368.54 89.03 368.03C92.34 367.53 95.65 367.07 98.96 366.51C102.27 365.95 105.58 365.32 108.88 364.69C112.19 364.05 115.50 363.40 118.81 362.71C122.12 362.03 125.43 361.35 128.74 360.58C132.05 359.82 135.35 358.98 138.66 358.12C141.97 357.26 145.28 356.40 148.59 355.42C151.90 354.43 155.21 353.39 158.52 352.22C161.82 351.06 165.13 349.84 168.44 348.42C171.75 347.01 175.06 345.51 178.37 343.71C181.68 341.91 184.99 339.96 188.29 337.63C191.60 335.30 194.91 332.87 198.22 329.73C201.53 326.59 204.84 323.65 208.15 318.78C211.46 313.92 214.76 310.63 218.07 300.54C221.38 290.46 226.35 265.33 228.00 258.29" fill="none" stroke="#d3d3d3" stroke-width="0.75"/>
<path d="M39.40 379.71C41.05 379.31 46.02 378.00 49.33 377.30C52.64 376.61 55.94 376.15 59.25 375.54C62.56 374.93 65.87 374.22 69.18 373.63C72.49 373.03 75.80 372.53 79.11 371.98C82.41 371.44 85.72 370.93 89.03 370.37C92.34 369.82 95.65 369.23 98.96 368.64C102.27 368.05 105.58 367.47 108.88 366.82C112.19 366.16 115.50 365.40 118.81 364.69C122.12 363.98 125.43 363.32 128.74 362.56C132.05 361.80 135.35 360.99 138.66 360.13C141.97 359.27 145.28 358.35 148.59 357.39C151.90 356.43 155.21 355.52 158.52 354.35C161.82 353.19 165.13 351.82 168.44 350.40C171.75 348.98 175.06 347.51 178.37 345.84C181.68 344.17 184.99 342.50 188.29 340.37C191.60 338.24 194.91 336.11 198.22 333.07C201.53 330.03 204.84 326.94 208.15 322.13C211.46 317.31 214.76 313.67 218.07 304.19C221.38 294.72 226.35 271.77 228.00 265.28" fill="none" stroke="#d3d3d3" stroke-width="0.75"/>
<path d="M39.40 382.41C41.05 381.82 46.02 379.82 49.33 378.85C52.64 377.89 55.94 377.29 59.25 376.60C62.56 375.92 65.87 375.32 69.18 374.72C72.49 374.12 75.80 373.57 79.11 372.99C82.41 372.40 85.72 371.78 89.03 371.22C92.34 370.67 95.65 370.23 98.96 369.64C102.27 369.06 105.58 368.40 108.88 367.73C112.19 367.05 115.50 366.36 118.81 365.60C122.12 364.84 125.43 363.98 128.74 363.17C132.05 362.36 135.35 361.60 138.66 360.74C141.97 359.87 145.28 358.96 148.59 358.00C151.90 357.04 155.21 356.13 158.52 354.96C161.82 353.79 165.13 352.38 168.44 351.01C171.75 349.64 175.06 348.37 178.37 346.75C181.68 345.13 184.99 343.36 188.29 341.28C191.60 339.20 194.91 337.28 198.22 334.29C201.53 331.30 204.84 328.06 208.15 323.34C211.46 318.63 214.76 315.34 218.07 306.02C221.38 296.69 226.35 273.84 228.00 267.41" fill="none" stroke="#d3d3d3" stroke-width="0.75"/>
<g stroke="#7d7d7d" stroke-width="1.4" fill="none">
<path d="M39.40 243.40V396.00H228.00V243.40"/>
<path d="M39.40 396.00h3"/>
<path d="M39.40 365.60h3"/>
<path d="M39.40 335.20h3"/>
<path d="M39.40 304.80h3"/>
<path d="M39.40 274.40h3"/>
<path d="M39.40 244.00h3"/>
<path d="M59.25 396.00v-3"/>
<path d="M79.11 396.00v-3"/>
<path d="M98.96 396.00v-3"/>
<path d="M118.81 396.00v-3"/>
<path d="M138.66 396.00v-3"/>
<path d="M158.52 396.00v-3"/>
<path d="M178.37 396.00v-3"/>
<path d="M198.22 396.00v-3"/>
<path d="M218.07 396.00v-3"/>
<path d="M228.00 396.00h-3"/>
<path d="M228.00 365.60h-3"/>
<path d="M228.00 335.20h-3"/>
<path d="M228.00 304.80h-3"/>
<path d="M228.00 274.40h-3"/>
<path d="M228.00 244.00h-3"/>
</g>
<rect x="37.75" y="338.41" width="3.30" height="3.30" fill="#fff" stroke="#9a9a9a" stroke-width="0.75"/>
<rect x="47.68" y="353.74" width="3.30" height="3.30" fill="#fff" stroke="#9a9a9a" stroke-width="0.75"/>
<rect x="57.60" y="367.04" width="3.30" height="3.30" fill="#fff" stroke="#9a9a9a" stroke-width="0.75"/>
<rect x="67.53" y="377.52" width="3.30" height="3.30" fill="#fff" stroke="#9a9a9a" stroke-width="0.75"/>
<rect x="77.46" y="385.15" width="3.30" height="3.30" fill="#fff" stroke="#9a9a9a" stroke-width="0.75"/>
<rect x="87.38" y="390.61" width="3.30" height="3.30" fill="#fff" stroke="#9a9a9a" stroke-width="0.75"/>
<rect x="97.31" y="394.07" width="3.30" height="3.30" fill="#fff" stroke="#9a9a9a" stroke-width="0.75"/>
<rect x="107.23" y="394.35" width="3.30" height="3.30" fill="#fff" stroke="#9a9a9a" stroke-width="0.75"/>
<circle cx="39.40" cy="290.21" r="1.80" fill="#fff" stroke="#9a9a9a" stroke-width="0.75"/>
<circle cx="49.33" cy="321.45" r="1.80" fill="#fff" stroke="#9a9a9a" stroke-width="0.75"/>
<circle cx="59.25" cy="341.00" r="1.80" fill="#fff" stroke="#9a9a9a" stroke-width="0.75"/>
<circle cx="69.18" cy="359.13" r="1.80" fill="#fff" stroke="#9a9a9a" stroke-width="0.75"/>
<circle cx="79.11" cy="372.79" r="1.80" fill="#fff" stroke="#9a9a9a" stroke-width="0.75"/>
<circle cx="89.03" cy="383.00" r="1.80" fill="#fff" stroke="#9a9a9a" stroke-width="0.75"/>
<circle cx="98.96" cy="390.58" r="1.80" fill="#fff" stroke="#9a9a9a" stroke-width="0.75"/>
<circle cx="108.88" cy="395.24" r="1.80" fill="#fff" stroke="#9a9a9a" stroke-width="0.75"/>
<path d="M39.40 248.95L41.60 253.00L37.20 253.00Z" fill="#fff" stroke="#9a9a9a" stroke-width="0.75"/>
<path d="M49.33 299.60L51.53 303.64L47.13 303.64Z" fill="#fff" stroke="#9a9a9a" stroke-width="0.75"/>
<path d="M59.25 326.71L61.45 330.76L57.05 330.76Z" fill="#fff" stroke="#9a9a9a" stroke-width="0.75"/>
<path d="M69.18 346.82L71.38 350.87L66.98 350.87Z" fill="#fff" stroke="#9a9a9a" stroke-width="0.75"/>
<path d="M79.11 362.22L81.31 366.27L76.91 366.27Z" fill="#fff" stroke="#9a9a9a" stroke-width="0.75"/>
<path d="M89.03 375.35L91.23 379.40L86.83 379.40Z" fill="#fff" stroke="#9a9a9a" stroke-width="0.75"/>
<path d="M98.96 383.96L101.16 388.01L96.76 388.01Z" fill="#fff" stroke="#9a9a9a" stroke-width="0.75"/>
<path d="M108.88 390.70L111.08 394.75L106.68 394.75Z" fill="#fff" stroke="#9a9a9a" stroke-width="0.75"/>
<path d="M118.81 393.58L121.01 397.62L116.61 397.62Z" fill="#fff" stroke="#9a9a9a" stroke-width="0.75"/>
<path d="M128.74 393.62L130.94 397.67L126.54 397.67Z" fill="#fff" stroke="#9a9a9a" stroke-width="0.75"/>
<path d="M138.66 393.62L140.86 397.67L136.46 397.67Z" fill="#fff" stroke="#9a9a9a" stroke-width="0.75"/>
<path d="M148.59 393.62L150.79 397.67L146.39 397.67Z" fill="#fff" stroke="#9a9a9a" stroke-width="0.75"/>
<path d="M158.52 393.62L160.72 397.67L156.32 397.67Z" fill="#fff" stroke="#9a9a9a" stroke-width="0.75"/>
<path d="M168.44 393.62L170.64 397.67L166.24 397.67Z" fill="#fff" stroke="#9a9a9a" stroke-width="0.75"/>
<path d="M178.37 393.62L180.57 397.67L176.17 397.67Z" fill="#fff" stroke="#9a9a9a" stroke-width="0.75"/>
<path d="M188.29 393.62L190.49 397.67L186.09 397.67Z" fill="#fff" stroke="#9a9a9a" stroke-width="0.75"/>
<path d="M198.22 393.62L200.42 397.67L196.02 397.67Z" fill="#fff" stroke="#9a9a9a" stroke-width="0.75"/>
<path d="M208.15 393.62L210.35 397.67L205.95 397.67Z" fill="#fff" stroke="#9a9a9a" stroke-width="0.75"/>
<path d="M218.07 393.62L220.27 397.67L215.87 397.67Z" fill="#fff" stroke="#9a9a9a" stroke-width="0.75"/>
<path d="M228.00 393.62L230.20 397.67L225.80 397.67Z" fill="#fff" stroke="#9a9a9a" stroke-width="0.75"/>
<rect x="37.75" y="373.98" width="3.30" height="3.30" fill="#424242" stroke="none"/>
<rect x="47.68" y="372.40" width="3.30" height="3.30" fill="#424242" stroke="none"/>
<rect x="57.60" y="370.85" width="3.30" height="3.30" fill="#424242" stroke="none"/>
<rect x="67.53" y="369.36" width="3.30" height="3.30" fill="#424242" stroke="none"/>
<rect x="77.46" y="367.90" width="3.30" height="3.30" fill="#424242" stroke="none"/>
<rect x="87.38" y="366.38" width="3.30" height="3.30" fill="#424242" stroke="none"/>
<rect x="97.31" y="364.86" width="3.30" height="3.30" fill="#424242" stroke="none"/>
<rect x="107.23" y="363.04" width="3.30" height="3.30" fill="#424242" stroke="none"/>
<rect x="117.16" y="361.06" width="3.30" height="3.30" fill="#424242" stroke="none"/>
<rect x="127.09" y="358.93" width="3.30" height="3.30" fill="#424242" stroke="none"/>
<rect x="137.01" y="356.47" width="3.30" height="3.30" fill="#424242" stroke="none"/>
<rect x="146.94" y="353.77" width="3.30" height="3.30" fill="#424242" stroke="none"/>
<rect x="156.87" y="350.57" width="3.30" height="3.30" fill="#424242" stroke="none"/>
<rect x="166.79" y="346.77" width="3.30" height="3.30" fill="#424242" stroke="none"/>
<rect x="176.72" y="342.06" width="3.30" height="3.30" fill="#424242" stroke="none"/>
<rect x="186.64" y="335.98" width="3.30" height="3.30" fill="#424242" stroke="none"/>
<rect x="196.57" y="328.08" width="3.30" height="3.30" fill="#424242" stroke="none"/>
<rect x="206.50" y="317.13" width="3.30" height="3.30" fill="#424242" stroke="none"/>
<rect x="216.42" y="298.89" width="3.30" height="3.30" fill="#424242" stroke="none"/>
<rect x="226.35" y="256.64" width="3.30" height="3.30" fill="#424242" stroke="none"/>
<circle cx="39.40" cy="379.71" r="1.85" fill="#424242" stroke="none"/>
<circle cx="49.33" cy="377.30" r="1.85" fill="#424242" stroke="none"/>
<circle cx="59.25" cy="375.54" r="1.85" fill="#424242" stroke="none"/>
<circle cx="69.18" cy="373.63" r="1.85" fill="#424242" stroke="none"/>
<circle cx="79.11" cy="371.98" r="1.85" fill="#424242" stroke="none"/>
<circle cx="89.03" cy="370.37" r="1.85" fill="#424242" stroke="none"/>
<circle cx="98.96" cy="368.64" r="1.85" fill="#424242" stroke="none"/>
<circle cx="108.88" cy="366.82" r="1.85" fill="#424242" stroke="none"/>
<circle cx="118.81" cy="364.69" r="1.85" fill="#424242" stroke="none"/>
<circle cx="128.74" cy="362.56" r="1.85" fill="#424242" stroke="none"/>
<circle cx="138.66" cy="360.13" r="1.85" fill="#424242" stroke="none"/>
<circle cx="148.59" cy="357.39" r="1.85" fill="#424242" stroke="none"/>
<circle cx="158.52" cy="354.35" r="1.85" fill="#424242" stroke="none"/>
<circle cx="168.44" cy="350.40" r="1.85" fill="#424242" stroke="none"/>
<circle cx="178.37" cy="345.84" r="1.85" fill="#424242" stroke="none"/>
<circle cx="188.29" cy="340.37" r="1.85" fill="#424242" stroke="none"/>
<circle cx="198.22" cy="333.07" r="1.85" fill="#424242" stroke="none"/>
<circle cx="208.15" cy="322.13" r="1.85" fill="#424242" stroke="none"/>
<circle cx="218.07" cy="304.19" r="1.85" fill="#424242" stroke="none"/>
<circle cx="228.00" cy="265.28" r="1.85" fill="#424242" stroke="none"/>
<path d="M39.40 380.14L41.50 384.01L37.30 384.01Z" fill="#424242" stroke="none"/>
<path d="M49.33 376.59L51.43 380.45L47.23 380.45Z" fill="#424242" stroke="none"/>
<path d="M59.25 374.34L61.35 378.20L57.15 378.20Z" fill="#424242" stroke="none"/>
<path d="M69.18 372.45L71.28 376.32L67.08 376.32Z" fill="#424242" stroke="none"/>
<path d="M79.11 370.72L81.21 374.58L77.01 374.58Z" fill="#424242" stroke="none"/>
<path d="M89.03 368.96L91.13 372.82L86.93 372.82Z" fill="#424242" stroke="none"/>
<path d="M98.96 367.38L101.06 371.24L96.86 371.24Z" fill="#424242" stroke="none"/>
<path d="M108.88 365.46L110.98 369.32L106.78 369.32Z" fill="#424242" stroke="none"/>
<path d="M118.81 363.33L120.91 367.20L116.71 367.20Z" fill="#424242" stroke="none"/>
<path d="M128.74 360.90L130.84 364.76L126.64 364.76Z" fill="#424242" stroke="none"/>
<path d="M138.66 358.47L140.76 362.33L136.56 362.33Z" fill="#424242" stroke="none"/>
<path d="M148.59 355.73L150.69 359.60L146.49 359.60Z" fill="#424242" stroke="none"/>
<path d="M158.52 352.69L160.62 356.56L156.42 356.56Z" fill="#424242" stroke="none"/>
<path d="M168.44 348.74L170.54 352.60L166.34 352.60Z" fill="#424242" stroke="none"/>
<path d="M178.37 344.48L180.47 348.35L176.27 348.35Z" fill="#424242" stroke="none"/>
<path d="M188.29 339.01L190.39 342.88L186.19 342.88Z" fill="#424242" stroke="none"/>
<path d="M198.22 332.02L200.32 335.88L196.12 335.88Z" fill="#424242" stroke="none"/>
<path d="M208.15 321.08L210.25 324.94L206.05 324.94Z" fill="#424242" stroke="none"/>
<path d="M218.07 303.75L220.17 307.61L215.97 307.61Z" fill="#424242" stroke="none"/>
<path d="M228.00 265.14L230.10 269.00L225.90 269.00Z" fill="#424242" stroke="none"/>
<text x="18.50 22.30 28.50 33.50" y="399.70" font-size="10" text-anchor="middle" fill="#2e2e2e">0.00</text>
<text x="18.50 22.30 28.50 33.50" y="369.30" font-size="10" text-anchor="middle" fill="#2e2e2e">0.05</text>
<text x="18.50 22.30 28.50 33.50" y="338.90" font-size="10" text-anchor="middle" fill="#2e2e2e">0.10</text>
<text x="18.50 22.30 28.50 33.50" y="308.50" font-size="10" text-anchor="middle" fill="#2e2e2e">0.15</text>
<text x="18.50 22.30 28.50 33.50" y="278.10" font-size="10" text-anchor="middle" fill="#2e2e2e">0.20</text>
<text x="18.50 22.30 28.50 33.50" y="247.70" font-size="10" text-anchor="middle" fill="#2e2e2e">0.25</text>
<text x="34.40 38.20 44.40" y="408.80" font-size="10" text-anchor="middle" fill="#2e2e2e">0.0</text>
<text x="54.25 58.05 64.25" y="408.80" font-size="10" text-anchor="middle" fill="#2e2e2e">0.1</text>
<text x="74.11 77.91 84.11" y="408.80" font-size="10" text-anchor="middle" fill="#2e2e2e">0.2</text>
<text x="93.96 97.76 103.96" y="408.80" font-size="10" text-anchor="middle" fill="#2e2e2e">0.3</text>
<text x="113.81 117.61 123.81" y="408.80" font-size="10" text-anchor="middle" fill="#2e2e2e">0.4</text>
<text x="133.66 137.46 143.66" y="408.80" font-size="10" text-anchor="middle" fill="#2e2e2e">0.5</text>
<text x="153.52 157.32 163.52" y="408.80" font-size="10" text-anchor="middle" fill="#2e2e2e">0.6</text>
<text x="173.37 177.17 183.37" y="408.80" font-size="10" text-anchor="middle" fill="#2e2e2e">0.7</text>
<text x="193.22 197.02 203.22" y="408.80" font-size="10" text-anchor="middle" fill="#2e2e2e">0.8</text>
<text x="213.07 216.87 223.07" y="408.80" font-size="10" text-anchor="middle" fill="#2e2e2e">0.9</text>
<text x="234.30" y="400.00" font-size="10" text-anchor="middle" fill="#2e2e2e">0</text>
<text x="234.30" y="369.60" font-size="10" text-anchor="middle" fill="#2e2e2e">1</text>
<text x="234.30" y="339.20" font-size="10" text-anchor="middle" fill="#2e2e2e">2</text>
<text x="234.30" y="308.80" font-size="10" text-anchor="middle" fill="#2e2e2e">3</text>
<text x="234.30" y="278.40" font-size="10" text-anchor="middle" fill="#2e2e2e">4</text>
<text x="234.30" y="248.00" font-size="10" text-anchor="middle" fill="#2e2e2e">5</text>
<text transform="translate(12.80 320.00) rotate(-90)" text-anchor="middle" font-size="9.65" fill="#2e2e2e" style="stroke-width:0.32px;stroke:#222">Failure degree F</text>
<text transform="translate(248.80 320.00) rotate(-90)" text-anchor="middle" font-size="10.15" fill="#2e2e2e" style="stroke-width:0.3px;stroke:#222">Non-probabilistic reliability index&#160;&#160;η</text>
<text x="133.70" y="423.30" text-anchor="middle" font-size="10.1" fill="#2e2e2e" style="stroke-width:0.32px;stroke:#222">Cut set level λ</text>
<text x="128.40" y="447.00" text-anchor="middle" font-size="14.5" fill="#111" style="stroke:none">(<tspan font-weight="bold">c</tspan>)</text>
<path d="M80.50 253.40H100.60" stroke="#d3d3d3" stroke-width="0.8"/>
<rect x="88.75" y="251.75" width="3.30" height="3.30" fill="#fff" stroke="#9a9a9a" stroke-width="0.75"/>
<g class="lg"><text x="108.07 113.62 117.97 122.92 127.88 131.65 137.77 142.48" y="256.90" font-size="10" text-anchor="middle" fill="#2e2e2e">F(k=2.0)</text></g>
<path d="M150.80 253.40H171.20" stroke="#d3d3d3" stroke-width="0.8"/>
<rect x="159.35" y="251.75" width="3.30" height="3.30" fill="#424242" stroke="none"/>
<g class="lg"><text x="179.50" y="256.90" font-size="10" text-anchor="middle" fill="#2e2e2e">η</text><text x="184.97 189.32 194.27 199.22 203.00 209.12 213.83" y="256.90" font-size="10" text-anchor="middle" fill="#2e2e2e">(k=2.0)</text></g>
<path d="M80.50 267.00H100.60" stroke="#d3d3d3" stroke-width="0.8"/>
<circle cx="90.40" cy="267.00" r="1.80" fill="#fff" stroke="#9a9a9a" stroke-width="0.75"/>
<g class="lg"><text x="108.07 113.62 117.97 122.92 127.88 131.65 137.77 142.48" y="270.50" font-size="10" text-anchor="middle" fill="#2e2e2e">F(k=2.5)</text></g>
<path d="M150.80 267.00H171.20" stroke="#d3d3d3" stroke-width="0.8"/>
<circle cx="161.00" cy="267.00" r="1.85" fill="#424242" stroke="none"/>
<g class="lg"><text x="179.50" y="270.50" font-size="10" text-anchor="middle" fill="#2e2e2e">η</text><text x="184.97 189.32 194.27 199.22 203.00 209.12 213.83" y="270.50" font-size="10" text-anchor="middle" fill="#2e2e2e">(k=2.5)</text></g>
<path d="M80.50 280.50H100.60" stroke="#d3d3d3" stroke-width="0.8"/>
<path d="M90.40 278.12L92.60 282.17L88.20 282.17Z" fill="#fff" stroke="#9a9a9a" stroke-width="0.75"/>
<g class="lg"><text x="108.07 113.62 117.97 122.92 127.88 131.65 137.77 142.48" y="284.00" font-size="10" text-anchor="middle" fill="#2e2e2e">F(k=3.0)</text></g>
<path d="M150.80 280.50H171.20" stroke="#d3d3d3" stroke-width="0.8"/>
<path d="M161.00 278.23L163.10 282.10L158.90 282.10Z" fill="#424242" stroke="none"/>
<g class="lg"><text x="179.50" y="284.00" font-size="10" text-anchor="middle" fill="#2e2e2e">η</text><text x="184.97 189.32 194.27 199.22 203.00 209.12 213.83" y="284.00" font-size="10" text-anchor="middle" fill="#2e2e2e">(k=3.0)</text></g>
<path d="M332.40 365.71C334.06 367.39 339.02 372.76 342.33 375.79C345.64 378.83 348.95 381.58 352.26 383.93C355.57 386.28 358.88 388.22 362.19 389.90C365.51 391.58 368.82 393.06 372.13 394.03C375.44 394.99 378.75 395.39 382.06 395.69C385.37 395.80 388.68 395.78 391.99 395.80C395.30 395.80 398.61 395.80 401.92 395.80C405.23 395.80 408.54 395.80 411.85 395.80C415.16 395.80 418.47 395.80 421.78 395.80C425.09 395.80 428.41 395.80 431.72 395.80C435.03 395.80 438.34 395.80 441.65 395.80C444.96 395.80 448.27 395.80 451.58 395.80C454.89 395.80 458.20 395.80 461.51 395.80C464.82 395.80 468.13 395.80 471.44 395.80C474.75 395.80 478.06 395.80 481.37 395.80C484.68 395.80 487.99 395.80 491.31 395.80C494.62 395.80 497.93 395.80 501.24 395.80C504.55 395.80 507.86 395.80 511.17 395.80C514.48 395.80 519.44 395.80 521.10 395.80" fill="none" stroke="#d3d3d3" stroke-width="0.75"/>
<path d="M332.40 334.46C334.06 337.56 339.02 347.76 342.33 353.05C345.64 358.35 348.95 362.14 352.26 366.22C355.57 370.30 358.88 374.35 362.19 377.55C365.51 380.75 368.82 383.21 372.13 385.42C375.44 387.64 378.75 389.33 382.06 390.84C385.37 392.34 388.68 393.64 391.99 394.46C395.30 395.28 398.61 395.53 401.92 395.75C405.23 395.80 408.54 395.79 411.85 395.80C415.16 395.80 418.47 395.80 421.78 395.80C425.09 395.80 428.41 395.80 431.72 395.80C435.03 395.80 438.34 395.80 441.65 395.80C444.96 395.80 448.27 395.80 451.58 395.80C454.89 395.80 458.20 395.80 461.51 395.80C464.82 395.80 468.13 395.80 471.44 395.80C474.75 395.80 478.06 395.80 481.37 395.80C484.68 395.80 487.99 395.80 491.31 395.80C494.62 395.80 497.93 395.80 501.24 395.80C504.55 395.80 507.86 395.80 511.17 395.80C514.48 395.80 519.44 395.80 521.10 395.80" fill="none" stroke="#d3d3d3" stroke-width="0.75"/>
<path d="M332.40 309.98C334.06 315.23 339.02 333.31 342.33 341.48C345.64 349.64 348.95 354.01 352.26 358.98C355.57 363.94 358.88 367.60 362.19 371.27C365.51 374.94 368.82 377.97 372.13 380.98C375.44 384.00 378.75 387.24 382.06 389.36C385.37 391.48 388.68 392.66 391.99 393.72C395.30 394.77 398.61 395.36 401.92 395.71C405.23 395.80 408.54 395.79 411.85 395.80C415.16 395.80 418.47 395.80 421.78 395.80C425.09 395.80 428.41 395.80 431.72 395.80C435.03 395.80 438.34 395.80 441.65 395.80C444.96 395.80 448.27 395.80 451.58 395.80C454.89 395.80 458.20 395.80 461.51 395.80C464.82 395.80 468.13 395.80 471.44 395.80C474.75 395.80 478.06 395.80 481.37 395.80C484.68 395.80 487.99 395.80 491.31 395.80C494.62 395.80 497.93 395.80 501.24 395.80C504.55 395.80 507.86 395.80 511.17 395.80C514.48 395.80 519.44 395.80 521.10 395.80" fill="none" stroke="#d3d3d3" stroke-width="0.75"/>
<path d="M332.40 372.67C334.06 372.44 339.02 371.78 342.33 371.33C345.64 370.88 348.95 370.41 352.26 369.96C355.57 369.51 358.88 369.10 362.19 368.63C365.51 368.16 368.82 367.60 372.13 367.14C375.44 366.68 378.75 366.31 382.06 365.90C385.37 365.49 388.68 365.11 391.99 364.68C395.30 364.25 398.61 363.82 401.92 363.31C405.23 362.81 408.54 362.23 411.85 361.64C415.16 361.06 418.47 360.51 421.78 359.82C425.09 359.14 428.41 358.38 431.72 357.55C435.03 356.71 438.34 355.80 441.65 354.81C444.96 353.83 448.27 352.79 451.58 351.63C454.89 350.46 458.20 349.22 461.51 347.83C464.82 346.44 468.13 345.00 471.44 343.28C474.75 341.56 478.06 339.74 481.37 337.51C484.68 335.28 487.99 333.01 491.31 329.92C494.62 326.83 497.93 323.80 501.24 318.99C504.55 314.18 507.86 310.99 511.17 301.08C514.48 291.16 519.44 266.42 521.10 259.48" fill="none" stroke="#d3d3d3" stroke-width="0.75"/>
<path d="M332.40 375.94C334.06 375.64 339.02 374.68 342.33 374.12C345.64 373.57 348.95 373.12 352.26 372.60C355.57 372.09 358.88 371.55 362.19 371.06C365.51 370.56 368.82 370.09 372.13 369.63C375.44 369.17 378.75 368.77 382.06 368.32C385.37 367.88 388.68 367.44 391.99 366.96C395.30 366.48 398.61 366.00 401.92 365.44C405.23 364.88 408.54 364.25 411.85 363.62C415.16 362.99 418.47 362.35 421.78 361.64C425.09 360.94 428.41 360.20 431.72 359.37C435.03 358.53 438.34 357.60 441.65 356.64C444.96 355.67 448.27 354.74 451.58 353.60C454.89 352.46 458.20 351.15 461.51 349.80C464.82 348.46 468.13 347.15 471.44 345.55C474.75 343.96 478.06 342.29 481.37 340.24C484.68 338.19 487.99 336.19 491.31 333.26C494.62 330.32 497.93 327.34 501.24 322.63C504.55 317.93 507.86 314.38 511.17 305.02C514.48 295.66 519.44 272.89 521.10 266.47" fill="none" stroke="#d3d3d3" stroke-width="0.75"/>
<path d="M332.40 378.04C334.06 377.58 339.02 376.07 342.33 375.31C345.64 374.54 348.95 374.01 352.26 373.46C355.57 372.90 358.88 372.48 362.19 372.00C365.51 371.51 368.82 371.08 372.13 370.54C375.44 370.00 378.75 369.33 382.06 368.78C385.37 368.23 388.68 367.77 391.99 367.26C395.30 366.76 398.61 366.25 401.92 365.74C405.23 365.24 408.54 364.78 411.85 364.23C415.16 363.67 418.47 363.06 421.78 362.40C425.09 361.75 428.41 361.09 431.72 360.28C435.03 359.47 438.34 358.51 441.65 357.55C444.96 356.59 448.27 355.67 451.58 354.51C454.89 353.35 458.20 351.90 461.51 350.56C464.82 349.22 468.13 347.98 471.44 346.47C474.75 344.95 478.06 343.40 481.37 341.46C484.68 339.51 487.99 337.71 491.31 334.78C494.62 331.84 497.93 328.60 501.24 323.85C504.55 319.09 507.86 315.65 511.17 306.24C514.48 296.83 519.44 273.85 521.10 267.38" fill="none" stroke="#d3d3d3" stroke-width="0.75"/>
<g stroke="#7d7d7d" stroke-width="1.4" fill="none">
<path d="M332.40 243.40V395.80H521.10V243.40"/>
<path d="M332.40 395.80h3"/>
<path d="M332.40 365.44h3"/>
<path d="M332.40 335.08h3"/>
<path d="M332.40 304.72h3"/>
<path d="M332.40 274.36h3"/>
<path d="M332.40 244.00h3"/>
<path d="M352.26 395.80v-3"/>
<path d="M372.13 395.80v-3"/>
<path d="M391.99 395.80v-3"/>
<path d="M411.85 395.80v-3"/>
<path d="M431.72 395.80v-3"/>
<path d="M451.58 395.80v-3"/>
<path d="M471.44 395.80v-3"/>
<path d="M491.31 395.80v-3"/>
<path d="M511.17 395.80v-3"/>
<path d="M521.10 395.80h-3"/>
<path d="M521.10 365.44h-3"/>
<path d="M521.10 335.08h-3"/>
<path d="M521.10 304.72h-3"/>
<path d="M521.10 274.36h-3"/>
<path d="M521.10 244.00h-3"/>
</g>
<rect x="330.75" y="364.06" width="3.30" height="3.30" fill="#fff" stroke="#9a9a9a" stroke-width="0.75"/>
<rect x="340.68" y="374.14" width="3.30" height="3.30" fill="#fff" stroke="#9a9a9a" stroke-width="0.75"/>
<rect x="350.61" y="382.28" width="3.30" height="3.30" fill="#fff" stroke="#9a9a9a" stroke-width="0.75"/>
<rect x="360.54" y="388.25" width="3.30" height="3.30" fill="#fff" stroke="#9a9a9a" stroke-width="0.75"/>
<rect x="370.48" y="392.38" width="3.30" height="3.30" fill="#fff" stroke="#9a9a9a" stroke-width="0.75"/>
<rect x="380.41" y="394.04" width="3.30" height="3.30" fill="#fff" stroke="#9a9a9a" stroke-width="0.75"/>
<rect x="390.34" y="394.15" width="3.30" height="3.30" fill="#fff" stroke="#9a9a9a" stroke-width="0.75"/>
<circle cx="332.40" cy="334.46" r="1.80" fill="#fff" stroke="#9a9a9a" stroke-width="0.75"/>
<circle cx="342.33" cy="353.05" r="1.80" fill="#fff" stroke="#9a9a9a" stroke-width="0.75"/>
<circle cx="352.26" cy="366.22" r="1.80" fill="#fff" stroke="#9a9a9a" stroke-width="0.75"/>
<circle cx="362.19" cy="377.55" r="1.80" fill="#fff" stroke="#9a9a9a" stroke-width="0.75"/>
<circle cx="372.13" cy="385.42" r="1.80" fill="#fff" stroke="#9a9a9a" stroke-width="0.75"/>
<circle cx="382.06" cy="390.84" r="1.80" fill="#fff" stroke="#9a9a9a" stroke-width="0.75"/>
<circle cx="391.99" cy="394.46" r="1.80" fill="#fff" stroke="#9a9a9a" stroke-width="0.75"/>
<path d="M332.40 307.60L334.60 311.65L330.20 311.65Z" fill="#fff" stroke="#9a9a9a" stroke-width="0.75"/>
<path d="M342.33 339.10L344.53 343.15L340.13 343.15Z" fill="#fff" stroke="#9a9a9a" stroke-width="0.75"/>
<path d="M352.26 356.60L354.46 360.65L350.06 360.65Z" fill="#fff" stroke="#9a9a9a" stroke-width="0.75"/>
<path d="M362.19 368.89L364.39 372.94L359.99 372.94Z" fill="#fff" stroke="#9a9a9a" stroke-width="0.75"/>
<path d="M372.13 378.61L374.33 382.66L369.93 382.66Z" fill="#fff" stroke="#9a9a9a" stroke-width="0.75"/>
<path d="M382.06 386.98L384.26 391.03L379.86 391.03Z" fill="#fff" stroke="#9a9a9a" stroke-width="0.75"/>
<path d="M391.99 391.34L394.19 395.39L389.79 395.39Z" fill="#fff" stroke="#9a9a9a" stroke-width="0.75"/>
<path d="M401.92 393.34L404.12 397.38L399.72 397.38Z" fill="#fff" stroke="#9a9a9a" stroke-width="0.75"/>
<path d="M411.85 393.42L414.05 397.47L409.65 397.47Z" fill="#fff" stroke="#9a9a9a" stroke-width="0.75"/>
<path d="M421.78 393.42L423.98 397.47L419.58 397.47Z" fill="#fff" stroke="#9a9a9a" stroke-width="0.75"/>
<path d="M431.72 393.42L433.92 397.47L429.52 397.47Z" fill="#fff" stroke="#9a9a9a" stroke-width="0.75"/>
<path d="M441.65 393.42L443.85 397.47L439.45 397.47Z" fill="#fff" stroke="#9a9a9a" stroke-width="0.75"/>
<path d="M451.58 393.42L453.78 397.47L449.38 397.47Z" fill="#fff" stroke="#9a9a9a" stroke-width="0.75"/>
<path d="M461.51 393.42L463.71 397.47L459.31 397.47Z" fill="#fff" stroke="#9a9a9a" stroke-width="0.75"/>
<path d="M471.44 393.42L473.64 397.47L469.24 397.47Z" fill="#fff" stroke="#9a9a9a" stroke-width="0.75"/>
<path d="M481.37 393.42L483.57 397.47L479.17 397.47Z" fill="#fff" stroke="#9a9a9a" stroke-width="0.75"/>
<path d="M491.31 393.42L493.51 397.47L489.11 397.47Z" fill="#fff" stroke="#9a9a9a" stroke-width="0.75"/>
<path d="M501.24 393.42L503.44 397.47L499.04 397.47Z" fill="#fff" stroke="#9a9a9a" stroke-width="0.75"/>
<path d="M511.17 393.42L513.37 397.47L508.97 397.47Z" fill="#fff" stroke="#9a9a9a" stroke-width="0.75"/>
<path d="M521.10 393.42L523.30 397.47L518.90 397.47Z" fill="#fff" stroke="#9a9a9a" stroke-width="0.75"/>
<rect x="330.75" y="371.02" width="3.30" height="3.30" fill="#424242" stroke="none"/>
<rect x="340.68" y="369.68" width="3.30" height="3.30" fill="#424242" stroke="none"/>
<rect x="350.61" y="368.31" width="3.30" height="3.30" fill="#424242" stroke="none"/>
<rect x="360.54" y="366.98" width="3.30" height="3.30" fill="#424242" stroke="none"/>
<rect x="370.48" y="365.49" width="3.30" height="3.30" fill="#424242" stroke="none"/>
<rect x="380.41" y="364.25" width="3.30" height="3.30" fill="#424242" stroke="none"/>
<rect x="390.34" y="363.03" width="3.30" height="3.30" fill="#424242" stroke="none"/>
<rect x="400.27" y="361.66" width="3.30" height="3.30" fill="#424242" stroke="none"/>
<rect x="410.20" y="360.00" width="3.30" height="3.30" fill="#424242" stroke="none"/>
<rect x="420.13" y="358.17" width="3.30" height="3.30" fill="#424242" stroke="none"/>
<rect x="430.07" y="355.90" width="3.30" height="3.30" fill="#424242" stroke="none"/>
<rect x="440.00" y="353.16" width="3.30" height="3.30" fill="#424242" stroke="none"/>
<rect x="449.93" y="349.98" width="3.30" height="3.30" fill="#424242" stroke="none"/>
<rect x="459.86" y="346.18" width="3.30" height="3.30" fill="#424242" stroke="none"/>
<rect x="469.79" y="341.63" width="3.30" height="3.30" fill="#424242" stroke="none"/>
<rect x="479.72" y="335.86" width="3.30" height="3.30" fill="#424242" stroke="none"/>
<rect x="489.66" y="328.27" width="3.30" height="3.30" fill="#424242" stroke="none"/>
<rect x="499.59" y="317.34" width="3.30" height="3.30" fill="#424242" stroke="none"/>
<rect x="509.52" y="299.43" width="3.30" height="3.30" fill="#424242" stroke="none"/>
<rect x="519.45" y="257.83" width="3.30" height="3.30" fill="#424242" stroke="none"/>
<circle cx="332.40" cy="375.94" r="1.85" fill="#424242" stroke="none"/>
<circle cx="342.33" cy="374.12" r="1.85" fill="#424242" stroke="none"/>
<circle cx="352.26" cy="372.60" r="1.85" fill="#424242" stroke="none"/>
<circle cx="362.19" cy="371.06" r="1.85" fill="#424242" stroke="none"/>
<circle cx="372.13" cy="369.63" r="1.85" fill="#424242" stroke="none"/>
<circle cx="382.06" cy="368.32" r="1.85" fill="#424242" stroke="none"/>
<circle cx="391.99" cy="366.96" r="1.85" fill="#424242" stroke="none"/>
<circle cx="401.92" cy="365.44" r="1.85" fill="#424242" stroke="none"/>
<circle cx="411.85" cy="363.62" r="1.85" fill="#424242" stroke="none"/>
<circle cx="421.78" cy="361.64" r="1.85" fill="#424242" stroke="none"/>
<circle cx="431.72" cy="359.37" r="1.85" fill="#424242" stroke="none"/>
<circle cx="441.65" cy="356.64" r="1.85" fill="#424242" stroke="none"/>
<circle cx="451.58" cy="353.60" r="1.85" fill="#424242" stroke="none"/>
<circle cx="461.51" cy="349.80" r="1.85" fill="#424242" stroke="none"/>
<circle cx="471.44" cy="345.55" r="1.85" fill="#424242" stroke="none"/>
<circle cx="481.37" cy="340.24" r="1.85" fill="#424242" stroke="none"/>
<circle cx="491.31" cy="333.26" r="1.85" fill="#424242" stroke="none"/>
<circle cx="501.24" cy="322.63" r="1.85" fill="#424242" stroke="none"/>
<circle cx="511.17" cy="305.02" r="1.85" fill="#424242" stroke="none"/>
<circle cx="521.10" cy="266.47" r="1.85" fill="#424242" stroke="none"/>
<path d="M332.40 375.77L334.50 379.64L330.30 379.64Z" fill="#424242" stroke="none"/>
<path d="M342.33 373.04L344.43 376.90L340.23 376.90Z" fill="#424242" stroke="none"/>
<path d="M352.26 371.19L354.36 375.05L350.16 375.05Z" fill="#424242" stroke="none"/>
<path d="M362.19 369.73L364.29 373.59L360.09 373.59Z" fill="#424242" stroke="none"/>
<path d="M372.13 368.27L374.23 372.14L370.03 372.14Z" fill="#424242" stroke="none"/>
<path d="M382.06 366.51L384.16 370.38L379.96 370.38Z" fill="#424242" stroke="none"/>
<path d="M391.99 364.99L394.09 368.86L389.89 368.86Z" fill="#424242" stroke="none"/>
<path d="M401.92 363.48L404.02 367.34L399.82 367.34Z" fill="#424242" stroke="none"/>
<path d="M411.85 361.96L413.95 365.82L409.75 365.82Z" fill="#424242" stroke="none"/>
<path d="M421.78 360.14L423.88 364.00L419.68 364.00Z" fill="#424242" stroke="none"/>
<path d="M431.72 358.01L433.82 361.87L429.62 361.87Z" fill="#424242" stroke="none"/>
<path d="M441.65 355.28L443.75 359.14L439.55 359.14Z" fill="#424242" stroke="none"/>
<path d="M451.58 352.24L453.68 356.11L449.48 356.11Z" fill="#424242" stroke="none"/>
<path d="M461.51 348.30L463.61 352.16L459.41 352.16Z" fill="#424242" stroke="none"/>
<path d="M471.44 344.20L473.54 348.06L469.34 348.06Z" fill="#424242" stroke="none"/>
<path d="M481.37 339.19L483.47 343.05L479.27 343.05Z" fill="#424242" stroke="none"/>
<path d="M491.31 332.51L493.41 336.37L489.21 336.37Z" fill="#424242" stroke="none"/>
<path d="M501.24 321.58L503.34 325.44L499.14 325.44Z" fill="#424242" stroke="none"/>
<path d="M511.17 303.97L513.27 307.83L509.07 307.83Z" fill="#424242" stroke="none"/>
<path d="M521.10 265.11L523.20 268.97L519.00 268.97Z" fill="#424242" stroke="none"/>
<text x="311.50 315.30 321.50 326.50" y="399.50" font-size="10" text-anchor="middle" fill="#2e2e2e">0.00</text>
<text x="311.50 315.30 321.50 326.50" y="369.14" font-size="10" text-anchor="middle" fill="#2e2e2e">0.05</text>
<text x="311.50 315.30 321.50 326.50" y="338.78" font-size="10" text-anchor="middle" fill="#2e2e2e">0.10</text>
<text x="311.50 315.30 321.50 326.50" y="308.42" font-size="10" text-anchor="middle" fill="#2e2e2e">0.15</text>
<text x="311.50 315.30 321.50 326.50" y="278.06" font-size="10" text-anchor="middle" fill="#2e2e2e">0.20</text>
<text x="311.50 315.30 321.50 326.50" y="247.70" font-size="10" text-anchor="middle" fill="#2e2e2e">0.25</text>
<text x="327.40 331.20 337.40" y="408.60" font-size="10" text-anchor="middle" fill="#2e2e2e">0.0</text>
<text x="347.26 351.06 357.26" y="408.60" font-size="10" text-anchor="middle" fill="#2e2e2e">0.1</text>
<text x="367.13 370.93 377.13" y="408.60" font-size="10" text-anchor="middle" fill="#2e2e2e">0.2</text>
<text x="386.99 390.79 396.99" y="408.60" font-size="10" text-anchor="middle" fill="#2e2e2e">0.3</text>
<text x="406.85 410.65 416.85" y="408.60" font-size="10" text-anchor="middle" fill="#2e2e2e">0.4</text>
<text x="426.72 430.52 436.72" y="408.60" font-size="10" text-anchor="middle" fill="#2e2e2e">0.5</text>
<text x="446.58 450.38 456.58" y="408.60" font-size="10" text-anchor="middle" fill="#2e2e2e">0.6</text>
<text x="466.44 470.24 476.44" y="408.60" font-size="10" text-anchor="middle" fill="#2e2e2e">0.7</text>
<text x="486.31 490.11 496.31" y="408.60" font-size="10" text-anchor="middle" fill="#2e2e2e">0.8</text>
<text x="506.17 509.97 516.17" y="408.60" font-size="10" text-anchor="middle" fill="#2e2e2e">0.9</text>
<text x="527.40" y="399.80" font-size="10" text-anchor="middle" fill="#2e2e2e">0</text>
<text x="527.40" y="369.44" font-size="10" text-anchor="middle" fill="#2e2e2e">1</text>
<text x="527.40" y="339.08" font-size="10" text-anchor="middle" fill="#2e2e2e">2</text>
<text x="527.40" y="308.72" font-size="10" text-anchor="middle" fill="#2e2e2e">3</text>
<text x="527.40" y="278.36" font-size="10" text-anchor="middle" fill="#2e2e2e">4</text>
<text x="527.40" y="248.00" font-size="10" text-anchor="middle" fill="#2e2e2e">5</text>
<text transform="translate(305.80 319.90) rotate(-90)" text-anchor="middle" font-size="9.65" fill="#2e2e2e" style="stroke-width:0.32px;stroke:#222">Failure degree F</text>
<text transform="translate(541.50 319.90) rotate(-90)" text-anchor="middle" font-size="10.15" fill="#2e2e2e" style="stroke-width:0.3px;stroke:#222">Non-probabilistic reliability index&#160;&#160;η</text>
<text x="426.75" y="423.40" text-anchor="middle" font-size="10.1" fill="#2e2e2e" style="stroke-width:0.32px;stroke:#222">Cut set level λ</text>
<text x="421.90" y="447.00" text-anchor="middle" font-size="14.5" fill="#111" style="stroke:none">(<tspan font-weight="bold">d</tspan>)</text>
<path d="M372.50 255.00H392.20" stroke="#d3d3d3" stroke-width="0.8"/>
<rect x="381.05" y="253.35" width="3.30" height="3.30" fill="#fff" stroke="#9a9a9a" stroke-width="0.75"/>
<g class="lg"><text x="399.78 405.32 409.68 414.62 419.57 423.35 429.47 434.18" y="258.50" font-size="10" text-anchor="middle" fill="#2e2e2e">F(k=2.0)</text></g>
<path d="M443.00 255.00H462.90" stroke="#d3d3d3" stroke-width="0.8"/>
<rect x="451.35" y="253.35" width="3.30" height="3.30" fill="#424242" stroke="none"/>
<g class="lg"><text x="471.50" y="258.50" font-size="10" text-anchor="middle" fill="#2e2e2e">η</text><text x="476.97 481.32 486.27 491.22 495.00 501.12 505.83" y="258.50" font-size="10" text-anchor="middle" fill="#2e2e2e">(k=2.0)</text></g>
<path d="M372.50 268.30H392.20" stroke="#d3d3d3" stroke-width="0.8"/>
<circle cx="382.70" cy="268.30" r="1.80" fill="#fff" stroke="#9a9a9a" stroke-width="0.75"/>
<g class="lg"><text x="399.78 405.32 409.68 414.62 419.57 423.35 429.47 434.18" y="271.80" font-size="10" text-anchor="middle" fill="#2e2e2e">F(k=2.5)</text></g>
<path d="M443.00 268.30H462.90" stroke="#d3d3d3" stroke-width="0.8"/>
<circle cx="453.00" cy="268.30" r="1.85" fill="#424242" stroke="none"/>
<g class="lg"><text x="471.50" y="271.80" font-size="10" text-anchor="middle" fill="#2e2e2e">η</text><text x="476.97 481.32 486.27 491.22 495.00 501.12 505.83" y="271.80" font-size="10" text-anchor="middle" fill="#2e2e2e">(k=2.5)</text></g>
<path d="M372.50 281.30H392.20" stroke="#d3d3d3" stroke-width="0.8"/>
<path d="M382.70 278.92L384.90 282.97L380.50 282.97Z" fill="#fff" stroke="#9a9a9a" stroke-width="0.75"/>
<g class="lg"><text x="399.78 405.32 409.68 414.62 419.57 423.35 429.47 434.18" y="284.80" font-size="10" text-anchor="middle" fill="#2e2e2e">F(k=3.0)</text></g>
<path d="M443.00 281.30H462.90" stroke="#d3d3d3" stroke-width="0.8"/>
<path d="M453.00 279.03L455.10 282.90L450.90 282.90Z" fill="#424242" stroke="none"/>
<g class="lg"><text x="471.50" y="284.80" font-size="10" text-anchor="middle" fill="#2e2e2e">η</text><text x="476.97 481.32 486.27 491.22 495.00 501.12 505.83" y="284.80" font-size="10" text-anchor="middle" fill="#2e2e2e">(k=3.0)</text></g>
</svg></body></html>
